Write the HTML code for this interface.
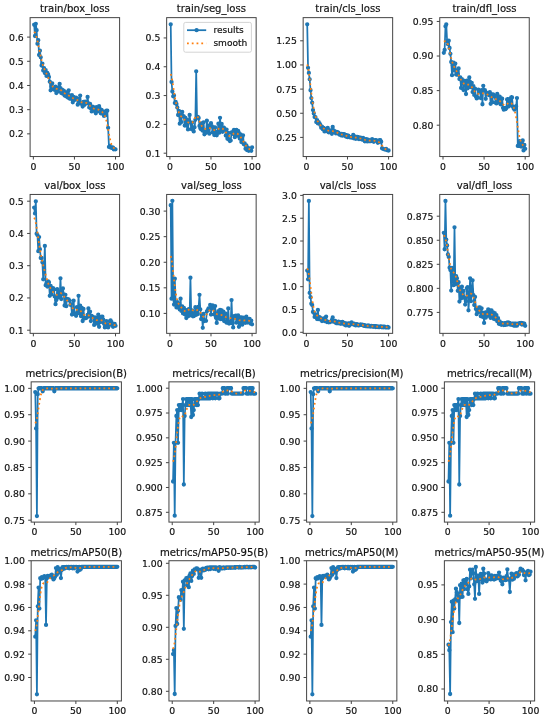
<!DOCTYPE html>
<html lang="en">
<head>
<meta charset="utf-8">
<title>results</title>
<style>html,body{margin:0;padding:0;background:#fff}svg{display:block}</style>
</head>
<body>
<svg width="550" height="722" viewBox="0 0 550 722" font-family="'DejaVu Sans','Liberation Sans',sans-serif" fill="#111">
<style>text{stroke:#111;stroke-width:.18px;paint-order:stroke}</style>
<rect width="550" height="722" fill="#fff"/>
<g>
<text x="74.85" y="12.44" font-size="10.1" text-anchor="middle">train/box_loss</text>
<clipPath id="c0"><rect x="30.1" y="17.64" width="89.5" height="138.9"/></clipPath>
<g clip-path="url(#c0)">
<polyline points="34.17,24.76 34.99,36.00 35.81,23.79 36.63,30.19 37.46,43.76 38.28,40.27 39.10,55.01 39.92,50.74 40.74,57.33 41.56,65.48 42.39,63.54 43.21,70.52 44.03,68.19 44.85,73.11 45.67,70.18 46.50,75.90 47.32,72.87 48.14,74.37 48.96,77.02 49.78,81.70 50.61,90.30 51.43,86.66 52.25,83.35 53.07,88.06 53.89,89.29 54.71,89.94 55.54,86.64 56.36,93.01 57.18,87.33 58.00,91.54 58.82,88.38 59.65,83.90 60.47,88.09 61.29,93.09 62.11,89.58 62.93,93.76 63.75,90.58 64.58,95.56 65.40,94.77 66.22,96.42 67.04,92.16 67.86,97.48 68.69,90.30 69.51,98.60 70.33,95.60 71.15,98.92 71.97,95.19 72.80,102.32 73.62,96.97 74.44,100.06 75.26,98.21 76.08,97.62 76.90,98.74 77.73,104.65 78.55,99.15 79.37,102.40 80.19,95.53 81.01,103.35 81.84,104.36 82.66,106.58 83.48,101.90 84.30,104.95 85.12,101.60 85.95,102.41 86.77,103.37 87.59,96.89 88.41,103.29 89.23,107.41 90.05,103.85 90.88,108.58 91.70,111.43 92.52,106.64 93.34,107.08 94.16,110.67 94.99,107.28 95.81,113.37 96.63,107.10 97.45,111.23 98.27,108.15 99.09,106.20 99.92,108.79 100.74,113.25 101.56,109.81 102.38,113.67 103.20,111.32 104.03,115.89 104.85,111.75 105.67,115.22 106.49,110.70 107.31,110.66 108.14,127.86 108.96,146.90 109.78,146.01 110.60,147.49 111.42,147.80 112.24,147.41 113.07,147.63 113.89,149.47 114.71,149.12 115.53,149.36" fill="none" stroke="#1f77b4" stroke-width="1.75" stroke-linejoin="round"/>
<path d="M34.17,24.76h0M34.99,36.00h0M35.81,23.79h0M36.63,30.19h0M37.46,43.76h0M38.28,40.27h0M39.10,55.01h0M39.92,50.74h0M40.74,57.33h0M41.56,65.48h0M42.39,63.54h0M43.21,70.52h0M44.03,68.19h0M44.85,73.11h0M45.67,70.18h0M46.50,75.90h0M47.32,72.87h0M48.14,74.37h0M48.96,77.02h0M49.78,81.70h0M50.61,90.30h0M51.43,86.66h0M52.25,83.35h0M53.07,88.06h0M53.89,89.29h0M54.71,89.94h0M55.54,86.64h0M56.36,93.01h0M57.18,87.33h0M58.00,91.54h0M58.82,88.38h0M59.65,83.90h0M60.47,88.09h0M61.29,93.09h0M62.11,89.58h0M62.93,93.76h0M63.75,90.58h0M64.58,95.56h0M65.40,94.77h0M66.22,96.42h0M67.04,92.16h0M67.86,97.48h0M68.69,90.30h0M69.51,98.60h0M70.33,95.60h0M71.15,98.92h0M71.97,95.19h0M72.80,102.32h0M73.62,96.97h0M74.44,100.06h0M75.26,98.21h0M76.08,97.62h0M76.90,98.74h0M77.73,104.65h0M78.55,99.15h0M79.37,102.40h0M80.19,95.53h0M81.01,103.35h0M81.84,104.36h0M82.66,106.58h0M83.48,101.90h0M84.30,104.95h0M85.12,101.60h0M85.95,102.41h0M86.77,103.37h0M87.59,96.89h0M88.41,103.29h0M89.23,107.41h0M90.05,103.85h0M90.88,108.58h0M91.70,111.43h0M92.52,106.64h0M93.34,107.08h0M94.16,110.67h0M94.99,107.28h0M95.81,113.37h0M96.63,107.10h0M97.45,111.23h0M98.27,108.15h0M99.09,106.20h0M99.92,108.79h0M100.74,113.25h0M101.56,109.81h0M102.38,113.67h0M103.20,111.32h0M104.03,115.89h0M104.85,111.75h0M105.67,115.22h0M106.49,110.70h0M107.31,110.66h0M108.14,127.86h0M108.96,146.90h0M109.78,146.01h0M110.60,147.49h0M111.42,147.80h0M112.24,147.41h0M113.07,147.63h0M113.89,149.47h0M114.71,149.12h0M115.53,149.36h0" fill="none" stroke="#1f77b4" stroke-width="4.3" stroke-linecap="round"/>
<polyline points="34.17,31.81 34.99,32.78 35.81,34.68 36.63,37.40 37.46,40.79 38.28,44.64 39.10,48.71 39.92,52.76 40.74,56.62 41.56,60.14 42.39,63.26 43.21,65.95 44.03,68.25 44.85,70.23 45.67,72.02 46.50,73.73 47.32,75.48 48.14,77.33 48.96,79.24 49.78,81.15 50.61,82.94 51.43,84.52 52.25,85.82 53.07,86.86 53.89,87.65 54.71,88.23 55.54,88.61 56.36,88.84 57.18,88.95 58.00,89.03 58.82,89.16 59.65,89.41 60.47,89.84 61.29,90.43 62.11,91.14 62.93,91.90 63.75,92.64 64.58,93.29 65.40,93.85 66.22,94.32 67.04,94.73 67.86,95.13 68.69,95.57 69.51,96.06 70.33,96.59 71.15,97.13 71.97,97.64 72.80,98.09 73.62,98.47 74.44,98.82 75.26,99.15 76.08,99.49 76.90,99.84 77.73,100.23 78.55,100.63 79.37,101.08 80.19,101.55 81.01,102.02 81.84,102.43 82.66,102.74 83.48,102.90 84.30,102.93 85.12,102.90 85.95,102.93 86.77,103.10 87.59,103.50 88.41,104.12 89.23,104.90 90.05,105.77 90.88,106.61 91.70,107.35 92.52,107.95 93.34,108.41 94.16,108.75 94.99,108.99 95.81,109.14 96.63,109.25 97.45,109.35 98.27,109.52 99.09,109.80 99.92,110.21 100.74,110.74 101.56,111.37 102.38,112.08 103.20,112.93 104.03,114.04 104.85,115.63 105.67,117.91 106.49,121.03 107.31,124.93 108.14,129.37 108.96,133.91 109.78,138.10 110.60,141.59 111.42,144.25 112.24,146.10 113.07,147.31 113.89,148.05 114.71,148.47 115.53,148.66" fill="none" stroke="#ff7f0e" stroke-width="1.75" stroke-dasharray="1.8 2.97"/>
</g>
<rect x="30.1" y="17.64" width="89.5" height="138.9" fill="none" stroke="#444" stroke-width="1.0"/>
<line x1="33.35" y1="156.54" x2="33.35" y2="159.54" stroke="#444" stroke-width="1.0"/>
<text x="33.35" y="169.84" font-size="9.3" text-anchor="middle">0</text>
<line x1="74.44" y1="156.54" x2="74.44" y2="159.54" stroke="#444" stroke-width="1.0"/>
<text x="74.44" y="169.84" font-size="9.3" text-anchor="middle">50</text>
<line x1="115.53" y1="156.54" x2="115.53" y2="159.54" stroke="#444" stroke-width="1.0"/>
<text x="115.53" y="169.84" font-size="9.3" text-anchor="middle">100</text>
<line x1="27.10" y1="133.85" x2="30.10" y2="133.85" stroke="#444" stroke-width="1.0"/>
<text x="23.80" y="137.30" font-size="9.3" text-anchor="end">0.2</text>
<line x1="27.10" y1="109.66" x2="30.10" y2="109.66" stroke="#444" stroke-width="1.0"/>
<text x="23.80" y="113.11" font-size="9.3" text-anchor="end">0.3</text>
<line x1="27.10" y1="85.47" x2="30.10" y2="85.47" stroke="#444" stroke-width="1.0"/>
<text x="23.80" y="88.92" font-size="9.3" text-anchor="end">0.4</text>
<line x1="27.10" y1="61.29" x2="30.10" y2="61.29" stroke="#444" stroke-width="1.0"/>
<text x="23.80" y="64.74" font-size="9.3" text-anchor="end">0.5</text>
<line x1="27.10" y1="37.10" x2="30.10" y2="37.10" stroke="#444" stroke-width="1.0"/>
<text x="23.80" y="40.55" font-size="9.3" text-anchor="end">0.6</text>
</g>
<g>
<text x="211.40" y="12.44" font-size="10.1" text-anchor="middle">train/seg_loss</text>
<clipPath id="c1"><rect x="166.65" y="17.64" width="89.5" height="138.9"/></clipPath>
<g clip-path="url(#c1)">
<polyline points="170.72,24.37 171.54,81.96 172.36,91.51 173.18,96.34 174.01,95.52 174.83,103.03 175.65,101.86 176.47,104.01 177.29,107.45 178.11,115.01 178.94,110.96 179.76,123.65 180.58,114.96 181.40,122.04 182.22,112.01 183.05,115.98 183.87,116.52 184.69,125.58 185.51,117.99 186.33,125.49 187.16,119.89 187.98,129.47 188.80,120.96 189.62,114.92 190.44,122.43 191.26,129.05 192.09,122.54 192.91,127.93 193.73,131.40 194.55,127.34 195.37,119.85 196.20,71.29 197.02,117.68 197.84,116.86 198.66,118.01 199.48,125.97 200.30,128.31 201.13,129.47 201.95,123.12 202.77,130.68 203.59,122.31 204.41,134.31 205.24,133.32 206.06,131.77 206.88,120.74 207.70,132.27 208.52,125.70 209.35,133.63 210.17,125.81 210.99,123.26 211.81,126.20 212.63,132.34 213.45,127.16 214.28,135.06 215.10,127.45 215.92,132.98 216.74,135.28 217.56,131.90 218.39,123.77 219.21,132.71 220.03,117.83 220.85,131.05 221.67,124.01 222.50,131.80 223.32,127.48 224.14,127.82 224.96,129.35 225.78,135.53 226.60,129.55 227.43,138.75 228.25,132.88 229.07,139.65 229.89,141.10 230.71,140.60 231.54,132.35 232.36,133.73 233.18,131.28 234.00,129.85 234.82,137.22 235.64,131.05 236.47,129.85 237.29,135.67 238.11,130.80 238.93,132.96 239.75,138.58 240.58,134.30 241.40,142.07 242.22,137.22 243.04,135.28 243.86,144.37 244.69,143.43 245.51,148.86 246.33,145.36 247.15,150.14 247.97,147.75 248.79,150.80 249.62,150.42 250.44,150.40 251.26,150.80 252.08,147.30" fill="none" stroke="#1f77b4" stroke-width="1.75" stroke-linejoin="round"/>
<path d="M170.72,24.37h0M171.54,81.96h0M172.36,91.51h0M173.18,96.34h0M174.01,95.52h0M174.83,103.03h0M175.65,101.86h0M176.47,104.01h0M177.29,107.45h0M178.11,115.01h0M178.94,110.96h0M179.76,123.65h0M180.58,114.96h0M181.40,122.04h0M182.22,112.01h0M183.05,115.98h0M183.87,116.52h0M184.69,125.58h0M185.51,117.99h0M186.33,125.49h0M187.16,119.89h0M187.98,129.47h0M188.80,120.96h0M189.62,114.92h0M190.44,122.43h0M191.26,129.05h0M192.09,122.54h0M192.91,127.93h0M193.73,131.40h0M194.55,127.34h0M195.37,119.85h0M196.20,71.29h0M197.02,117.68h0M197.84,116.86h0M198.66,118.01h0M199.48,125.97h0M200.30,128.31h0M201.13,129.47h0M201.95,123.12h0M202.77,130.68h0M203.59,122.31h0M204.41,134.31h0M205.24,133.32h0M206.06,131.77h0M206.88,120.74h0M207.70,132.27h0M208.52,125.70h0M209.35,133.63h0M210.17,125.81h0M210.99,123.26h0M211.81,126.20h0M212.63,132.34h0M213.45,127.16h0M214.28,135.06h0M215.10,127.45h0M215.92,132.98h0M216.74,135.28h0M217.56,131.90h0M218.39,123.77h0M219.21,132.71h0M220.03,117.83h0M220.85,131.05h0M221.67,124.01h0M222.50,131.80h0M223.32,127.48h0M224.14,127.82h0M224.96,129.35h0M225.78,135.53h0M226.60,129.55h0M227.43,138.75h0M228.25,132.88h0M229.07,139.65h0M229.89,141.10h0M230.71,140.60h0M231.54,132.35h0M232.36,133.73h0M233.18,131.28h0M234.00,129.85h0M234.82,137.22h0M235.64,131.05h0M236.47,129.85h0M237.29,135.67h0M238.11,130.80h0M238.93,132.96h0M239.75,138.58h0M240.58,134.30h0M241.40,142.07h0M242.22,137.22h0M243.04,135.28h0M243.86,144.37h0M244.69,143.43h0M245.51,148.86h0M246.33,145.36h0M247.15,150.14h0M247.97,147.75h0M248.79,150.80h0M249.62,150.42h0M250.44,150.40h0M251.26,150.80h0M252.08,147.30h0" fill="none" stroke="#1f77b4" stroke-width="4.3" stroke-linecap="round"/>
<polyline points="170.72,74.10 171.54,76.59 172.36,80.99 173.18,86.36 174.01,91.84 174.83,96.83 175.65,101.12 176.47,104.75 177.29,107.83 178.11,110.45 178.94,112.62 179.76,114.35 180.58,115.68 181.40,116.70 182.22,117.54 183.05,118.33 183.87,119.14 184.69,119.96 185.51,120.74 186.33,121.40 187.16,121.92 187.98,122.32 188.80,122.64 189.62,122.95 190.44,123.19 191.26,123.23 192.09,122.86 192.91,121.91 193.73,120.40 194.55,118.59 195.37,116.94 196.20,115.96 197.02,115.99 197.84,117.04 198.66,118.86 199.48,121.02 200.30,123.12 201.13,124.92 201.95,126.34 202.77,127.39 203.59,128.13 204.41,128.60 205.24,128.84 206.06,128.87 206.88,128.76 207.70,128.56 208.52,128.36 209.35,128.22 210.17,128.19 210.99,128.33 211.81,128.64 212.63,129.09 213.45,129.59 214.28,130.03 215.10,130.30 215.92,130.31 216.74,130.06 217.56,129.58 218.39,128.99 219.21,128.44 220.03,128.07 220.85,127.95 221.67,128.13 222.50,128.57 223.32,129.25 224.14,130.13 224.96,131.15 225.78,132.27 226.60,133.40 227.43,134.44 228.25,135.27 229.07,135.79 229.89,135.92 230.71,135.68 231.54,135.17 232.36,134.53 233.18,133.91 234.00,133.42 234.82,133.14 235.64,133.08 236.47,133.24 237.29,133.62 238.11,134.21 238.93,134.98 239.75,135.91 240.58,136.96 241.40,138.12 242.22,139.39 243.04,140.77 243.86,142.22 244.69,143.69 245.51,145.09 246.33,146.36 247.15,147.41 247.97,148.24 248.79,148.82 249.62,149.19 250.44,149.39 251.26,149.47 252.08,149.49" fill="none" stroke="#ff7f0e" stroke-width="1.75" stroke-dasharray="1.8 2.97"/>
</g>
<rect x="166.65" y="17.64" width="89.5" height="138.9" fill="none" stroke="#444" stroke-width="1.0"/>
<line x1="169.90" y1="156.54" x2="169.90" y2="159.54" stroke="#444" stroke-width="1.0"/>
<text x="169.90" y="169.84" font-size="9.3" text-anchor="middle">0</text>
<line x1="210.99" y1="156.54" x2="210.99" y2="159.54" stroke="#444" stroke-width="1.0"/>
<text x="210.99" y="169.84" font-size="9.3" text-anchor="middle">50</text>
<line x1="252.08" y1="156.54" x2="252.08" y2="159.54" stroke="#444" stroke-width="1.0"/>
<text x="252.08" y="169.84" font-size="9.3" text-anchor="middle">100</text>
<line x1="163.65" y1="153.20" x2="166.65" y2="153.20" stroke="#444" stroke-width="1.0"/>
<text x="160.35" y="156.65" font-size="9.3" text-anchor="end">0.1</text>
<line x1="163.65" y1="124.39" x2="166.65" y2="124.39" stroke="#444" stroke-width="1.0"/>
<text x="160.35" y="127.84" font-size="9.3" text-anchor="end">0.2</text>
<line x1="163.65" y1="95.57" x2="166.65" y2="95.57" stroke="#444" stroke-width="1.0"/>
<text x="160.35" y="99.02" font-size="9.3" text-anchor="end">0.3</text>
<line x1="163.65" y1="66.76" x2="166.65" y2="66.76" stroke="#444" stroke-width="1.0"/>
<text x="160.35" y="70.21" font-size="9.3" text-anchor="end">0.4</text>
<line x1="163.65" y1="37.95" x2="166.65" y2="37.95" stroke="#444" stroke-width="1.0"/>
<text x="160.35" y="41.40" font-size="9.3" text-anchor="end">0.5</text>
<rect x="183.8" y="22.4" width="67.6" height="29.8" rx="1.7" fill="#fff" fill-opacity="0.8" stroke="#ccc" stroke-width="0.85"/>
<line x1="187.0" y1="30.2" x2="206.20000000000002" y2="30.2" stroke="#1f77b4" stroke-width="1.75"/>
<circle cx="196.60000000000002" cy="30.2" r="2.15" fill="#1f77b4"/>
<line x1="187.0" y1="43.3" x2="206.20000000000002" y2="43.3" stroke="#ff7f0e" stroke-width="1.75" stroke-dasharray="1.8 2.97"/>
<text x="213.4" y="33.099999999999994" font-size="9.05">results</text>
<text x="213.4" y="46.3" font-size="9.05">smooth</text>
</g>
<g>
<text x="347.90" y="12.44" font-size="10.1" text-anchor="middle">train/cls_loss</text>
<clipPath id="c2"><rect x="303.15" y="17.64" width="89.5" height="138.9"/></clipPath>
<g clip-path="url(#c2)">
<polyline points="307.22,24.37 308.04,67.80 308.86,72.92 309.68,79.28 310.51,90.14 311.33,98.12 312.15,102.69 312.97,110.10 313.79,113.45 314.61,116.98 315.44,117.17 316.26,122.10 317.08,120.07 317.90,123.47 318.72,122.26 319.55,123.44 320.37,124.94 321.19,127.76 322.01,126.58 322.83,129.25 323.66,127.85 324.48,131.40 325.30,128.81 326.12,131.06 326.94,129.61 327.76,127.91 328.59,132.30 329.41,132.22 330.23,130.44 331.05,132.86 331.87,133.73 332.70,126.94 333.52,130.49 334.34,130.84 335.16,131.55 335.98,133.44 336.80,131.85 337.63,132.18 338.45,132.60 339.27,134.53 340.09,134.95 340.91,135.29 341.74,133.78 342.56,135.70 343.38,134.20 344.20,134.10 345.02,134.54 345.85,136.62 346.67,135.22 347.49,137.17 348.31,135.59 349.13,137.13 349.95,137.47 350.78,137.19 351.60,137.62 352.42,137.72 353.24,134.89 354.06,138.43 354.89,136.40 355.71,138.75 356.53,138.62 357.35,136.84 358.17,137.23 359.00,139.14 359.82,137.56 360.64,137.67 361.46,139.32 362.28,139.66 363.10,137.89 363.93,138.76 364.75,141.29 365.57,141.03 366.39,139.25 367.21,141.38 368.04,139.57 368.86,141.07 369.68,141.07 370.50,141.16 371.32,139.98 372.14,139.16 372.97,141.41 373.79,141.84 374.61,140.46 375.43,140.04 376.25,140.36 377.08,140.59 377.90,142.84 378.72,142.30 379.54,140.18 380.36,140.13 381.19,141.70 382.01,148.32 382.83,148.76 383.65,149.04 384.47,149.33 385.29,149.69 386.12,148.96 386.94,150.05 387.76,150.37 388.58,150.50" fill="none" stroke="#1f77b4" stroke-width="1.75" stroke-linejoin="round"/>
<path d="M307.22,24.37h0M308.04,67.80h0M308.86,72.92h0M309.68,79.28h0M310.51,90.14h0M311.33,98.12h0M312.15,102.69h0M312.97,110.10h0M313.79,113.45h0M314.61,116.98h0M315.44,117.17h0M316.26,122.10h0M317.08,120.07h0M317.90,123.47h0M318.72,122.26h0M319.55,123.44h0M320.37,124.94h0M321.19,127.76h0M322.01,126.58h0M322.83,129.25h0M323.66,127.85h0M324.48,131.40h0M325.30,128.81h0M326.12,131.06h0M326.94,129.61h0M327.76,127.91h0M328.59,132.30h0M329.41,132.22h0M330.23,130.44h0M331.05,132.86h0M331.87,133.73h0M332.70,126.94h0M333.52,130.49h0M334.34,130.84h0M335.16,131.55h0M335.98,133.44h0M336.80,131.85h0M337.63,132.18h0M338.45,132.60h0M339.27,134.53h0M340.09,134.95h0M340.91,135.29h0M341.74,133.78h0M342.56,135.70h0M343.38,134.20h0M344.20,134.10h0M345.02,134.54h0M345.85,136.62h0M346.67,135.22h0M347.49,137.17h0M348.31,135.59h0M349.13,137.13h0M349.95,137.47h0M350.78,137.19h0M351.60,137.62h0M352.42,137.72h0M353.24,134.89h0M354.06,138.43h0M354.89,136.40h0M355.71,138.75h0M356.53,138.62h0M357.35,136.84h0M358.17,137.23h0M359.00,139.14h0M359.82,137.56h0M360.64,137.67h0M361.46,139.32h0M362.28,139.66h0M363.10,137.89h0M363.93,138.76h0M364.75,141.29h0M365.57,141.03h0M366.39,139.25h0M367.21,141.38h0M368.04,139.57h0M368.86,141.07h0M369.68,141.07h0M370.50,141.16h0M371.32,139.98h0M372.14,139.16h0M372.97,141.41h0M373.79,141.84h0M374.61,140.46h0M375.43,140.04h0M376.25,140.36h0M377.08,140.59h0M377.90,142.84h0M378.72,142.30h0M379.54,140.18h0M380.36,140.13h0M381.19,141.70h0M382.01,148.32h0M382.83,148.76h0M383.65,149.04h0M384.47,149.33h0M385.29,149.69h0M386.12,148.96h0M386.94,150.05h0M387.76,150.37h0M388.58,150.50h0" fill="none" stroke="#1f77b4" stroke-width="4.3" stroke-linecap="round"/>
<polyline points="307.22,64.44 308.04,67.21 308.86,72.26 309.68,78.76 310.51,85.84 311.33,92.78 312.15,99.10 312.97,104.59 313.79,109.16 314.61,112.88 315.44,115.85 316.26,118.20 317.08,120.06 317.90,121.59 318.72,122.88 319.55,124.03 320.37,125.09 321.19,126.08 322.01,126.97 322.83,127.77 323.66,128.44 324.48,128.99 325.30,129.44 326.12,129.81 326.94,130.14 327.76,130.43 328.59,130.69 329.41,130.90 330.23,131.04 331.05,131.12 331.87,131.14 332.70,131.18 333.52,131.27 334.34,131.44 335.16,131.71 335.98,132.05 336.80,132.44 337.63,132.86 338.45,133.27 339.27,133.66 340.09,134.00 340.91,134.28 341.74,134.50 342.56,134.69 343.38,134.87 344.20,135.07 345.02,135.30 345.85,135.57 346.67,135.86 347.49,136.15 348.31,136.42 349.13,136.65 349.95,136.84 350.78,136.98 351.60,137.08 352.42,137.17 353.24,137.26 354.06,137.36 354.89,137.47 355.71,137.59 356.53,137.71 357.35,137.84 358.17,137.96 359.00,138.11 359.82,138.28 360.64,138.48 361.46,138.71 362.28,138.97 363.10,139.24 363.93,139.52 364.75,139.78 365.57,140.02 366.39,140.21 367.21,140.35 368.04,140.46 368.86,140.52 369.68,140.57 370.50,140.59 371.32,140.61 372.14,140.63 372.97,140.67 373.79,140.72 374.61,140.79 375.43,140.90 376.25,141.05 377.08,141.27 377.90,141.58 378.72,142.04 379.54,142.67 380.36,143.50 381.19,144.49 382.01,145.56 382.83,146.62 383.65,147.57 384.47,148.35 385.29,148.95 386.12,149.38 386.94,149.67 387.76,149.86 388.58,149.95" fill="none" stroke="#ff7f0e" stroke-width="1.75" stroke-dasharray="1.8 2.97"/>
</g>
<rect x="303.15" y="17.64" width="89.5" height="138.9" fill="none" stroke="#444" stroke-width="1.0"/>
<line x1="306.40" y1="156.54" x2="306.40" y2="159.54" stroke="#444" stroke-width="1.0"/>
<text x="306.40" y="169.84" font-size="9.3" text-anchor="middle">0</text>
<line x1="347.49" y1="156.54" x2="347.49" y2="159.54" stroke="#444" stroke-width="1.0"/>
<text x="347.49" y="169.84" font-size="9.3" text-anchor="middle">50</text>
<line x1="388.58" y1="156.54" x2="388.58" y2="159.54" stroke="#444" stroke-width="1.0"/>
<text x="388.58" y="169.84" font-size="9.3" text-anchor="middle">100</text>
<line x1="300.15" y1="137.40" x2="303.15" y2="137.40" stroke="#444" stroke-width="1.0"/>
<text x="296.85" y="140.85" font-size="9.3" text-anchor="end">0.25</text>
<line x1="300.15" y1="113.25" x2="303.15" y2="113.25" stroke="#444" stroke-width="1.0"/>
<text x="296.85" y="116.70" font-size="9.3" text-anchor="end">0.50</text>
<line x1="300.15" y1="89.10" x2="303.15" y2="89.10" stroke="#444" stroke-width="1.0"/>
<text x="296.85" y="92.55" font-size="9.3" text-anchor="end">0.75</text>
<line x1="300.15" y1="64.95" x2="303.15" y2="64.95" stroke="#444" stroke-width="1.0"/>
<text x="296.85" y="68.40" font-size="9.3" text-anchor="end">1.00</text>
<line x1="300.15" y1="40.80" x2="303.15" y2="40.80" stroke="#444" stroke-width="1.0"/>
<text x="296.85" y="44.25" font-size="9.3" text-anchor="end">1.25</text>
</g>
<g>
<text x="484.50" y="12.44" font-size="10.1" text-anchor="middle">train/dfl_loss</text>
<clipPath id="c3"><rect x="439.75" y="17.64" width="89.5" height="138.9"/></clipPath>
<g clip-path="url(#c3)">
<polyline points="443.82,52.87 444.64,49.96 445.46,26.31 446.28,24.37 447.11,41.24 447.93,44.15 448.75,40.66 449.57,48.02 450.39,53.84 451.21,61.99 452.04,75.17 452.86,65.48 453.68,62.66 454.50,70.71 455.32,63.54 456.15,74.59 456.97,70.50 457.79,74.59 458.61,68.39 459.43,79.05 460.26,77.37 461.08,87.97 461.90,79.16 462.72,80.29 463.54,90.10 464.36,80.99 465.19,81.52 466.01,93.98 466.83,80.71 467.65,88.25 468.47,84.87 469.30,77.50 470.12,82.02 470.94,87.19 471.76,82.93 472.58,92.10 473.40,86.20 474.23,94.92 475.05,88.57 475.87,96.60 476.69,98.44 477.51,97.66 478.34,89.63 479.16,91.61 479.98,91.22 480.80,98.07 481.62,90.17 482.45,104.26 483.27,85.84 484.09,90.15 484.91,90.15 485.73,98.81 486.55,92.56 487.38,94.33 488.20,93.81 489.02,95.17 489.84,92.24 490.66,103.87 491.49,94.18 492.31,102.19 493.13,94.37 493.95,96.08 494.77,96.27 495.60,102.83 496.42,103.45 497.24,93.98 498.06,102.29 498.88,101.66 499.70,96.66 500.53,104.34 501.35,98.35 502.17,98.69 502.99,107.80 503.81,109.69 504.64,108.09 505.46,109.18 506.28,108.14 507.10,99.41 507.92,99.19 508.74,106.44 509.57,99.73 510.39,104.04 511.21,97.40 512.03,97.47 512.85,106.57 513.68,108.49 514.50,109.69 515.32,108.51 516.14,106.13 516.96,98.05 517.79,145.95 518.61,145.73 519.43,141.10 520.25,145.36 521.07,146.53 521.89,144.23 522.72,140.52 523.54,150.41 524.36,144.98 525.18,148.86" fill="none" stroke="#1f77b4" stroke-width="1.75" stroke-linejoin="round"/>
<path d="M443.82,52.87h0M444.64,49.96h0M445.46,26.31h0M446.28,24.37h0M447.11,41.24h0M447.93,44.15h0M448.75,40.66h0M449.57,48.02h0M450.39,53.84h0M451.21,61.99h0M452.04,75.17h0M452.86,65.48h0M453.68,62.66h0M454.50,70.71h0M455.32,63.54h0M456.15,74.59h0M456.97,70.50h0M457.79,74.59h0M458.61,68.39h0M459.43,79.05h0M460.26,77.37h0M461.08,87.97h0M461.90,79.16h0M462.72,80.29h0M463.54,90.10h0M464.36,80.99h0M465.19,81.52h0M466.01,93.98h0M466.83,80.71h0M467.65,88.25h0M468.47,84.87h0M469.30,77.50h0M470.12,82.02h0M470.94,87.19h0M471.76,82.93h0M472.58,92.10h0M473.40,86.20h0M474.23,94.92h0M475.05,88.57h0M475.87,96.60h0M476.69,98.44h0M477.51,97.66h0M478.34,89.63h0M479.16,91.61h0M479.98,91.22h0M480.80,98.07h0M481.62,90.17h0M482.45,104.26h0M483.27,85.84h0M484.09,90.15h0M484.91,90.15h0M485.73,98.81h0M486.55,92.56h0M487.38,94.33h0M488.20,93.81h0M489.02,95.17h0M489.84,92.24h0M490.66,103.87h0M491.49,94.18h0M492.31,102.19h0M493.13,94.37h0M493.95,96.08h0M494.77,96.27h0M495.60,102.83h0M496.42,103.45h0M497.24,93.98h0M498.06,102.29h0M498.88,101.66h0M499.70,96.66h0M500.53,104.34h0M501.35,98.35h0M502.17,98.69h0M502.99,107.80h0M503.81,109.69h0M504.64,108.09h0M505.46,109.18h0M506.28,108.14h0M507.10,99.41h0M507.92,99.19h0M508.74,106.44h0M509.57,99.73h0M510.39,104.04h0M511.21,97.40h0M512.03,97.47h0M512.85,106.57h0M513.68,108.49h0M514.50,109.69h0M515.32,108.51h0M516.14,106.13h0M516.96,98.05h0M517.79,145.95h0M518.61,145.73h0M519.43,141.10h0M520.25,145.36h0M521.07,146.53h0M521.89,144.23h0M522.72,140.52h0M523.54,150.41h0M524.36,144.98h0M525.18,148.86h0" fill="none" stroke="#1f77b4" stroke-width="4.3" stroke-linecap="round"/>
<polyline points="443.82,41.55 444.64,41.32 445.46,41.12 446.28,41.36 447.11,42.41 447.93,44.41 448.75,47.28 449.57,50.75 450.39,54.45 451.21,58.02 452.04,61.17 452.86,63.77 453.68,65.85 454.50,67.54 455.32,69.01 456.15,70.41 456.97,71.86 457.79,73.40 458.61,75.04 459.43,76.72 460.26,78.38 461.08,79.91 461.90,81.25 462.72,82.37 463.54,83.26 464.36,83.92 465.19,84.35 466.01,84.56 466.83,84.61 467.65,84.56 468.47,84.55 469.30,84.71 470.12,85.14 470.94,85.90 471.76,86.95 472.58,88.20 473.40,89.53 474.23,90.81 475.05,91.93 475.87,92.79 476.69,93.36 477.51,93.65 478.34,93.75 479.16,93.74 479.98,93.69 480.80,93.61 481.62,93.51 482.45,93.40 483.27,93.31 484.09,93.29 484.91,93.38 485.73,93.61 486.55,93.97 487.38,94.42 488.20,94.93 489.02,95.49 489.84,96.05 490.66,96.57 491.49,97.04 492.31,97.44 493.13,97.81 493.95,98.19 494.77,98.57 495.60,98.97 496.42,99.35 497.24,99.70 498.06,100.05 498.88,100.45 499.70,100.95 500.53,101.62 501.35,102.44 502.17,103.35 502.99,104.21 503.81,104.87 504.64,105.19 505.46,105.12 506.28,104.71 507.10,104.10 507.92,103.44 508.74,102.91 509.57,102.62 510.39,102.66 511.21,103.11 512.03,104.00 512.85,105.37 513.68,107.30 514.50,109.90 515.32,113.27 516.14,117.45 516.96,122.26 517.79,127.35 518.61,132.24 519.43,136.48 520.25,139.81 521.07,142.22 521.89,143.86 522.72,144.95 523.54,145.66 524.36,146.11 525.18,146.33" fill="none" stroke="#ff7f0e" stroke-width="1.75" stroke-dasharray="1.8 2.97"/>
</g>
<rect x="439.75" y="17.64" width="89.5" height="138.9" fill="none" stroke="#444" stroke-width="1.0"/>
<line x1="443.00" y1="156.54" x2="443.00" y2="159.54" stroke="#444" stroke-width="1.0"/>
<text x="443.00" y="169.84" font-size="9.3" text-anchor="middle">0</text>
<line x1="484.09" y1="156.54" x2="484.09" y2="159.54" stroke="#444" stroke-width="1.0"/>
<text x="484.09" y="169.84" font-size="9.3" text-anchor="middle">50</text>
<line x1="525.18" y1="156.54" x2="525.18" y2="159.54" stroke="#444" stroke-width="1.0"/>
<text x="525.18" y="169.84" font-size="9.3" text-anchor="middle">100</text>
<line x1="436.75" y1="125.20" x2="439.75" y2="125.20" stroke="#444" stroke-width="1.0"/>
<text x="433.45" y="128.65" font-size="9.3" text-anchor="end">0.80</text>
<line x1="436.75" y1="90.62" x2="439.75" y2="90.62" stroke="#444" stroke-width="1.0"/>
<text x="433.45" y="94.07" font-size="9.3" text-anchor="end">0.85</text>
<line x1="436.75" y1="56.03" x2="439.75" y2="56.03" stroke="#444" stroke-width="1.0"/>
<text x="433.45" y="59.48" font-size="9.3" text-anchor="end">0.90</text>
<line x1="436.75" y1="21.45" x2="439.75" y2="21.45" stroke="#444" stroke-width="1.0"/>
<text x="433.45" y="24.90" font-size="9.3" text-anchor="end">0.95</text>
</g>
<g>
<text x="74.85" y="189.25" font-size="10.1" text-anchor="middle">val/box_loss</text>
<clipPath id="c4"><rect x="30.1" y="194.45" width="89.5" height="138.9"/></clipPath>
<g clip-path="url(#c4)">
<polyline points="34.17,207.57 34.99,213.39 35.81,201.37 36.63,233.75 37.46,235.11 38.28,251.20 39.10,237.05 39.92,249.26 40.74,257.99 41.56,257.97 42.39,262.36 43.21,279.32 44.03,269.37 44.85,245.97 45.67,285.14 46.50,283.77 47.32,286.48 48.14,281.51 48.96,282.23 49.78,295.80 50.61,285.82 51.43,294.29 52.25,288.57 53.07,288.04 53.89,289.76 54.71,296.42 55.54,304.14 56.36,300.06 57.18,289.22 58.00,297.56 58.82,292.04 59.65,297.19 60.47,278.35 61.29,299.07 62.11,292.59 62.93,288.43 63.75,294.32 64.58,305.50 65.40,294.78 66.22,306.18 67.04,298.82 67.86,299.68 68.69,299.50 69.51,300.71 70.33,304.79 71.15,304.05 71.97,314.61 72.80,312.94 73.62,300.65 74.44,313.43 75.26,314.17 76.08,315.77 76.90,307.18 77.73,312.27 78.55,295.80 79.37,313.36 80.19,305.70 81.01,316.20 81.84,307.84 82.66,321.01 83.48,308.97 84.30,318.10 85.12,318.10 85.95,318.19 86.77,317.62 87.59,314.96 88.41,308.40 89.23,316.25 90.05,311.74 90.88,321.08 91.70,315.92 92.52,316.71 93.34,317.42 94.16,324.89 94.99,317.44 95.81,323.39 96.63,318.00 97.45,323.65 98.27,314.61 99.09,326.83 99.92,316.94 100.74,321.99 101.56,316.83 102.38,316.55 103.20,319.39 104.03,323.75 104.85,327.41 105.67,325.97 106.49,321.12 107.31,325.10 108.14,327.41 108.96,324.86 109.78,321.22 110.60,320.43 111.42,321.79 112.24,325.71 113.07,326.83 113.89,325.89 114.71,323.94 115.53,325.86" fill="none" stroke="#1f77b4" stroke-width="1.75" stroke-linejoin="round"/>
<path d="M34.17,207.57h0M34.99,213.39h0M35.81,201.37h0M36.63,233.75h0M37.46,235.11h0M38.28,251.20h0M39.10,237.05h0M39.92,249.26h0M40.74,257.99h0M41.56,257.97h0M42.39,262.36h0M43.21,279.32h0M44.03,269.37h0M44.85,245.97h0M45.67,285.14h0M46.50,283.77h0M47.32,286.48h0M48.14,281.51h0M48.96,282.23h0M49.78,295.80h0M50.61,285.82h0M51.43,294.29h0M52.25,288.57h0M53.07,288.04h0M53.89,289.76h0M54.71,296.42h0M55.54,304.14h0M56.36,300.06h0M57.18,289.22h0M58.00,297.56h0M58.82,292.04h0M59.65,297.19h0M60.47,278.35h0M61.29,299.07h0M62.11,292.59h0M62.93,288.43h0M63.75,294.32h0M64.58,305.50h0M65.40,294.78h0M66.22,306.18h0M67.04,298.82h0M67.86,299.68h0M68.69,299.50h0M69.51,300.71h0M70.33,304.79h0M71.15,304.05h0M71.97,314.61h0M72.80,312.94h0M73.62,300.65h0M74.44,313.43h0M75.26,314.17h0M76.08,315.77h0M76.90,307.18h0M77.73,312.27h0M78.55,295.80h0M79.37,313.36h0M80.19,305.70h0M81.01,316.20h0M81.84,307.84h0M82.66,321.01h0M83.48,308.97h0M84.30,318.10h0M85.12,318.10h0M85.95,318.19h0M86.77,317.62h0M87.59,314.96h0M88.41,308.40h0M89.23,316.25h0M90.05,311.74h0M90.88,321.08h0M91.70,315.92h0M92.52,316.71h0M93.34,317.42h0M94.16,324.89h0M94.99,317.44h0M95.81,323.39h0M96.63,318.00h0M97.45,323.65h0M98.27,314.61h0M99.09,326.83h0M99.92,316.94h0M100.74,321.99h0M101.56,316.83h0M102.38,316.55h0M103.20,319.39h0M104.03,323.75h0M104.85,327.41h0M105.67,325.97h0M106.49,321.12h0M107.31,325.10h0M108.14,327.41h0M108.96,324.86h0M109.78,321.22h0M110.60,320.43h0M111.42,321.79h0M112.24,325.71h0M113.07,326.83h0M113.89,325.89h0M114.71,323.94h0M115.53,325.86h0" fill="none" stroke="#1f77b4" stroke-width="4.3" stroke-linecap="round"/>
<polyline points="34.17,217.69 34.99,219.53 35.81,222.99 36.63,227.62 37.46,232.93 38.28,238.47 39.10,243.87 39.92,248.96 40.74,253.64 41.56,257.87 42.39,261.71 43.21,265.21 44.03,268.51 44.85,271.70 45.67,274.83 46.50,277.85 47.32,280.66 48.14,283.15 48.96,285.26 49.78,287.01 50.61,288.46 51.43,289.71 52.25,290.87 53.07,291.99 53.89,293.04 54.71,293.92 55.54,294.52 56.36,294.75 57.18,294.60 58.00,294.18 58.82,293.66 59.65,293.25 60.47,293.10 61.29,293.33 62.11,293.94 62.93,294.88 63.75,296.03 64.58,297.24 65.40,298.39 66.22,299.42 67.04,300.35 67.86,301.27 68.69,302.28 69.51,303.44 70.33,304.73 71.15,306.06 71.97,307.32 72.80,308.41 73.62,309.24 74.44,309.76 75.26,309.97 76.08,309.93 76.90,309.73 77.73,309.56 78.55,309.58 79.37,309.90 80.19,310.54 81.01,311.43 81.84,312.45 82.66,313.46 83.48,314.34 84.30,315.00 85.12,315.39 85.95,315.54 86.77,315.51 87.59,315.42 88.41,315.40 89.23,315.56 90.05,315.94 90.88,316.50 91.70,317.20 92.52,317.93 93.34,318.63 94.16,319.23 94.99,319.70 95.81,320.01 96.63,320.18 97.45,320.23 98.27,320.20 99.09,320.13 99.92,320.08 100.74,320.14 101.56,320.38 102.38,320.82 103.20,321.45 104.03,322.18 104.85,322.89 105.67,323.46 106.49,323.82 107.31,323.98 108.14,323.97 108.96,323.88 109.78,323.82 110.60,323.85 111.42,324.00 112.24,324.25 113.07,324.55 113.89,324.82 114.71,325.02 115.53,325.12" fill="none" stroke="#ff7f0e" stroke-width="1.75" stroke-dasharray="1.8 2.97"/>
</g>
<rect x="30.1" y="194.45" width="89.5" height="138.9" fill="none" stroke="#444" stroke-width="1.0"/>
<line x1="33.35" y1="333.35" x2="33.35" y2="336.35" stroke="#444" stroke-width="1.0"/>
<text x="33.35" y="346.65" font-size="9.3" text-anchor="middle">0</text>
<line x1="74.44" y1="333.35" x2="74.44" y2="336.35" stroke="#444" stroke-width="1.0"/>
<text x="74.44" y="346.65" font-size="9.3" text-anchor="middle">50</text>
<line x1="115.53" y1="333.35" x2="115.53" y2="336.35" stroke="#444" stroke-width="1.0"/>
<text x="115.53" y="346.65" font-size="9.3" text-anchor="middle">100</text>
<line x1="27.10" y1="330.20" x2="30.10" y2="330.20" stroke="#444" stroke-width="1.0"/>
<text x="23.80" y="333.65" font-size="9.3" text-anchor="end">0.1</text>
<line x1="27.10" y1="297.95" x2="30.10" y2="297.95" stroke="#444" stroke-width="1.0"/>
<text x="23.80" y="301.40" font-size="9.3" text-anchor="end">0.2</text>
<line x1="27.10" y1="265.70" x2="30.10" y2="265.70" stroke="#444" stroke-width="1.0"/>
<text x="23.80" y="269.15" font-size="9.3" text-anchor="end">0.3</text>
<line x1="27.10" y1="233.45" x2="30.10" y2="233.45" stroke="#444" stroke-width="1.0"/>
<text x="23.80" y="236.90" font-size="9.3" text-anchor="end">0.4</text>
<line x1="27.10" y1="201.20" x2="30.10" y2="201.20" stroke="#444" stroke-width="1.0"/>
<text x="23.80" y="204.65" font-size="9.3" text-anchor="end">0.5</text>
</g>
<g>
<text x="211.40" y="189.25" font-size="10.1" text-anchor="middle">val/seg_loss</text>
<clipPath id="c5"><rect x="166.65" y="194.45" width="89.5" height="138.9"/></clipPath>
<g clip-path="url(#c5)">
<polyline points="170.72,205.25 171.54,298.71 172.36,200.79 173.18,298.71 174.01,304.53 174.83,278.74 175.65,302.59 176.47,307.43 177.29,302.24 178.11,307.71 178.94,303.52 179.76,309.59 180.58,298.71 181.40,310.90 182.22,306.37 183.05,313.41 183.87,307.79 184.69,314.26 185.51,309.85 186.33,318.10 187.16,312.11 187.98,316.23 188.80,309.26 189.62,315.53 190.44,277.77 191.26,315.18 192.09,310.35 192.91,316.33 193.73,316.16 194.55,313.62 195.37,307.17 196.20,314.76 197.02,307.43 197.84,314.02 198.66,306.81 199.48,294.83 200.30,309.30 201.13,319.07 201.95,315.42 202.77,327.80 203.59,313.99 204.41,321.01 205.24,320.46 206.06,320.79 206.88,311.35 207.70,310.21 208.52,308.42 209.35,309.42 210.17,304.91 210.99,314.62 211.81,306.48 212.63,305.50 213.45,308.57 214.28,314.57 215.10,306.08 215.92,317.80 216.74,322.95 217.56,313.14 218.39,311.10 219.21,318.67 220.03,309.88 220.85,319.19 221.67,310.34 222.50,317.42 223.32,311.57 224.14,321.01 224.96,313.83 225.78,313.67 226.60,322.69 227.43,322.68 228.25,308.40 229.07,323.53 229.89,322.10 230.71,322.54 231.54,300.07 232.36,323.16 233.18,327.41 234.00,316.12 234.82,317.62 235.64,315.77 236.47,322.71 237.29,317.98 238.11,315.40 238.93,326.83 239.75,317.12 240.58,323.54 241.40,317.43 242.22,324.68 243.04,317.60 243.86,322.95 244.69,318.55 245.51,322.84 246.33,316.55 247.15,322.52 247.97,319.47 248.79,319.28 249.62,318.83 250.44,323.48 251.26,320.61 252.08,324.30" fill="none" stroke="#1f77b4" stroke-width="1.75" stroke-linejoin="round"/>
<path d="M170.72,205.25h0M171.54,298.71h0M172.36,200.79h0M173.18,298.71h0M174.01,304.53h0M174.83,278.74h0M175.65,302.59h0M176.47,307.43h0M177.29,302.24h0M178.11,307.71h0M178.94,303.52h0M179.76,309.59h0M180.58,298.71h0M181.40,310.90h0M182.22,306.37h0M183.05,313.41h0M183.87,307.79h0M184.69,314.26h0M185.51,309.85h0M186.33,318.10h0M187.16,312.11h0M187.98,316.23h0M188.80,309.26h0M189.62,315.53h0M190.44,277.77h0M191.26,315.18h0M192.09,310.35h0M192.91,316.33h0M193.73,316.16h0M194.55,313.62h0M195.37,307.17h0M196.20,314.76h0M197.02,307.43h0M197.84,314.02h0M198.66,306.81h0M199.48,294.83h0M200.30,309.30h0M201.13,319.07h0M201.95,315.42h0M202.77,327.80h0M203.59,313.99h0M204.41,321.01h0M205.24,320.46h0M206.06,320.79h0M206.88,311.35h0M207.70,310.21h0M208.52,308.42h0M209.35,309.42h0M210.17,304.91h0M210.99,314.62h0M211.81,306.48h0M212.63,305.50h0M213.45,308.57h0M214.28,314.57h0M215.10,306.08h0M215.92,317.80h0M216.74,322.95h0M217.56,313.14h0M218.39,311.10h0M219.21,318.67h0M220.03,309.88h0M220.85,319.19h0M221.67,310.34h0M222.50,317.42h0M223.32,311.57h0M224.14,321.01h0M224.96,313.83h0M225.78,313.67h0M226.60,322.69h0M227.43,322.68h0M228.25,308.40h0M229.07,323.53h0M229.89,322.10h0M230.71,322.54h0M231.54,300.07h0M232.36,323.16h0M233.18,327.41h0M234.00,316.12h0M234.82,317.62h0M235.64,315.77h0M236.47,322.71h0M237.29,317.98h0M238.11,315.40h0M238.93,326.83h0M239.75,317.12h0M240.58,323.54h0M241.40,317.43h0M242.22,324.68h0M243.04,317.60h0M243.86,322.95h0M244.69,318.55h0M245.51,322.84h0M246.33,316.55h0M247.15,322.52h0M247.97,319.47h0M248.79,319.28h0M249.62,318.83h0M250.44,323.48h0M251.26,320.61h0M252.08,324.30h0" fill="none" stroke="#1f77b4" stroke-width="4.3" stroke-linecap="round"/>
<polyline points="170.72,255.94 171.54,259.03 172.36,264.62 173.18,271.74 174.01,279.29 174.83,286.35 175.65,292.32 176.47,296.98 177.29,300.38 178.11,302.76 178.94,304.42 179.76,305.64 180.58,306.66 181.40,307.63 182.22,308.60 183.05,309.55 183.87,310.43 184.69,311.12 185.51,311.52 186.33,311.54 187.16,311.16 187.98,310.49 188.80,309.72 189.62,309.11 190.44,308.89 191.26,309.12 192.09,309.70 192.91,310.38 193.73,310.91 194.55,311.13 195.37,311.00 196.20,310.64 197.02,310.23 197.84,310.01 198.66,310.18 199.48,310.86 200.30,312.04 201.13,313.52 201.95,315.02 202.77,316.23 203.59,316.91 204.41,316.97 205.24,316.42 206.06,315.39 206.88,314.08 207.70,312.71 208.52,311.46 209.35,310.48 210.17,309.83 210.99,309.54 211.81,309.60 212.63,309.99 213.45,310.65 214.28,311.52 215.10,312.45 215.92,313.31 216.74,313.99 217.56,314.43 218.39,314.65 219.21,314.74 220.03,314.78 220.85,314.86 221.67,315.02 222.50,315.29 223.32,315.66 224.14,316.11 224.96,316.59 225.78,317.07 226.60,317.49 227.43,317.81 228.25,318.02 229.07,318.12 229.89,318.15 230.71,318.17 231.54,318.22 232.36,318.33 233.18,318.48 234.00,318.64 234.82,318.81 235.64,318.99 236.47,319.20 237.29,319.46 238.11,319.75 238.93,320.03 239.75,320.28 240.58,320.47 241.40,320.57 242.22,320.61 243.04,320.58 243.86,320.51 244.69,320.43 245.51,320.35 246.33,320.31 247.15,320.34 247.97,320.45 248.79,320.67 249.62,320.96 250.44,321.27 251.26,321.54 252.08,321.70" fill="none" stroke="#ff7f0e" stroke-width="1.75" stroke-dasharray="1.8 2.97"/>
</g>
<rect x="166.65" y="194.45" width="89.5" height="138.9" fill="none" stroke="#444" stroke-width="1.0"/>
<line x1="169.90" y1="333.35" x2="169.90" y2="336.35" stroke="#444" stroke-width="1.0"/>
<text x="169.90" y="346.65" font-size="9.3" text-anchor="middle">0</text>
<line x1="210.99" y1="333.35" x2="210.99" y2="336.35" stroke="#444" stroke-width="1.0"/>
<text x="210.99" y="346.65" font-size="9.3" text-anchor="middle">50</text>
<line x1="252.08" y1="333.35" x2="252.08" y2="336.35" stroke="#444" stroke-width="1.0"/>
<text x="252.08" y="346.65" font-size="9.3" text-anchor="middle">100</text>
<line x1="163.65" y1="313.40" x2="166.65" y2="313.40" stroke="#444" stroke-width="1.0"/>
<text x="160.35" y="316.85" font-size="9.3" text-anchor="end">0.10</text>
<line x1="163.65" y1="287.82" x2="166.65" y2="287.82" stroke="#444" stroke-width="1.0"/>
<text x="160.35" y="291.27" font-size="9.3" text-anchor="end">0.15</text>
<line x1="163.65" y1="262.25" x2="166.65" y2="262.25" stroke="#444" stroke-width="1.0"/>
<text x="160.35" y="265.70" font-size="9.3" text-anchor="end">0.20</text>
<line x1="163.65" y1="236.67" x2="166.65" y2="236.67" stroke="#444" stroke-width="1.0"/>
<text x="160.35" y="240.12" font-size="9.3" text-anchor="end">0.25</text>
<line x1="163.65" y1="211.10" x2="166.65" y2="211.10" stroke="#444" stroke-width="1.0"/>
<text x="160.35" y="214.55" font-size="9.3" text-anchor="end">0.30</text>
</g>
<g>
<text x="347.90" y="189.25" font-size="10.1" text-anchor="middle">val/cls_loss</text>
<clipPath id="c6"><rect x="303.15" y="194.45" width="89.5" height="138.9"/></clipPath>
<g clip-path="url(#c6)">
<polyline points="307.22,270.59 308.04,279.32 308.86,200.98 309.68,292.89 310.51,297.16 311.33,303.75 312.15,304.91 312.97,312.02 313.79,312.77 314.61,316.97 315.44,315.60 316.26,314.61 317.08,319.07 317.90,309.96 318.72,319.05 319.55,317.03 320.37,317.95 321.19,319.94 322.01,321.01 322.83,319.91 323.66,318.50 324.48,321.01 325.30,319.39 326.12,316.55 326.94,322.10 327.76,321.63 328.59,322.37 329.41,322.08 330.23,322.00 331.05,321.67 331.87,320.02 332.70,317.52 333.52,321.43 334.34,321.93 335.16,320.81 335.98,323.04 336.80,323.19 337.63,323.07 338.45,321.75 339.27,323.44 340.09,322.23 340.91,323.79 341.74,322.36 342.56,321.98 343.38,322.75 344.20,324.51 345.02,323.11 345.85,325.47 346.67,323.59 347.49,325.15 348.31,323.50 349.13,325.86 349.95,323.06 350.78,324.37 351.60,322.37 352.42,324.19 353.24,323.65 354.06,323.59 354.89,325.15 355.71,325.38 356.53,324.06 357.35,324.30 358.17,325.28 359.00,325.45 359.82,324.66 360.64,324.89 361.46,324.74 362.28,324.83 363.10,324.95 363.93,325.93 364.75,325.13 365.57,325.98 366.39,326.12 367.21,326.25 368.04,325.51 368.86,326.41 369.68,325.87 370.50,326.52 371.32,325.98 372.14,326.67 372.97,326.19 373.79,326.81 374.61,326.20 375.43,326.99 376.25,326.19 377.08,326.99 377.90,326.37 378.72,327.14 379.54,327.20 380.36,326.45 381.19,326.46 382.01,327.32 382.83,326.74 383.65,327.36 384.47,326.76 385.29,327.32 386.12,327.44 386.94,327.45 387.76,326.95 388.58,327.50" fill="none" stroke="#1f77b4" stroke-width="1.75" stroke-linejoin="round"/>
<path d="M307.22,270.59h0M308.04,279.32h0M308.86,200.98h0M309.68,292.89h0M310.51,297.16h0M311.33,303.75h0M312.15,304.91h0M312.97,312.02h0M313.79,312.77h0M314.61,316.97h0M315.44,315.60h0M316.26,314.61h0M317.08,319.07h0M317.90,309.96h0M318.72,319.05h0M319.55,317.03h0M320.37,317.95h0M321.19,319.94h0M322.01,321.01h0M322.83,319.91h0M323.66,318.50h0M324.48,321.01h0M325.30,319.39h0M326.12,316.55h0M326.94,322.10h0M327.76,321.63h0M328.59,322.37h0M329.41,322.08h0M330.23,322.00h0M331.05,321.67h0M331.87,320.02h0M332.70,317.52h0M333.52,321.43h0M334.34,321.93h0M335.16,320.81h0M335.98,323.04h0M336.80,323.19h0M337.63,323.07h0M338.45,321.75h0M339.27,323.44h0M340.09,322.23h0M340.91,323.79h0M341.74,322.36h0M342.56,321.98h0M343.38,322.75h0M344.20,324.51h0M345.02,323.11h0M345.85,325.47h0M346.67,323.59h0M347.49,325.15h0M348.31,323.50h0M349.13,325.86h0M349.95,323.06h0M350.78,324.37h0M351.60,322.37h0M352.42,324.19h0M353.24,323.65h0M354.06,323.59h0M354.89,325.15h0M355.71,325.38h0M356.53,324.06h0M357.35,324.30h0M358.17,325.28h0M359.00,325.45h0M359.82,324.66h0M360.64,324.89h0M361.46,324.74h0M362.28,324.83h0M363.10,324.95h0M363.93,325.93h0M364.75,325.13h0M365.57,325.98h0M366.39,326.12h0M367.21,326.25h0M368.04,325.51h0M368.86,326.41h0M369.68,325.87h0M370.50,326.52h0M371.32,325.98h0M372.14,326.67h0M372.97,326.19h0M373.79,326.81h0M374.61,326.20h0M375.43,326.99h0M376.25,326.19h0M377.08,326.99h0M377.90,326.37h0M378.72,327.14h0M379.54,327.20h0M380.36,326.45h0M381.19,326.46h0M382.01,327.32h0M382.83,326.74h0M383.65,327.36h0M384.47,326.76h0M385.29,327.32h0M386.12,327.44h0M386.94,327.45h0M387.76,326.95h0M388.58,327.50h0" fill="none" stroke="#1f77b4" stroke-width="4.3" stroke-linecap="round"/>
<polyline points="307.22,268.43 308.04,270.48 308.86,274.43 309.68,279.94 310.51,286.40 311.33,293.08 312.15,299.25 312.97,304.44 313.79,308.45 314.61,311.33 315.44,313.29 316.26,314.60 317.08,315.51 317.90,316.22 318.72,316.86 319.55,317.48 320.37,318.07 321.19,318.60 322.01,319.02 322.83,319.34 323.66,319.58 324.48,319.79 325.30,320.02 326.12,320.27 326.94,320.56 327.76,320.82 328.59,321.02 329.41,321.12 330.23,321.12 331.05,321.06 331.87,321.02 332.70,321.05 333.52,321.18 334.34,321.41 335.16,321.69 335.98,321.99 336.80,322.25 337.63,322.46 338.45,322.60 339.27,322.71 340.09,322.79 340.91,322.87 341.74,322.98 342.56,323.13 343.38,323.32 344.20,323.54 345.02,323.75 345.85,323.94 346.67,324.07 347.49,324.14 348.31,324.15 349.13,324.11 349.95,324.04 350.78,323.99 351.60,323.96 352.42,323.99 353.24,324.08 354.06,324.20 354.89,324.35 355.71,324.49 356.53,324.62 357.35,324.72 358.17,324.80 359.00,324.86 359.82,324.92 360.64,324.98 361.46,325.05 362.28,325.15 363.10,325.27 363.93,325.40 364.75,325.55 365.57,325.69 366.39,325.81 367.21,325.91 368.04,326.00 368.86,326.08 369.68,326.15 370.50,326.22 371.32,326.29 372.14,326.36 372.97,326.42 373.79,326.48 374.61,326.53 375.43,326.58 376.25,326.63 377.08,326.68 377.90,326.73 378.72,326.77 379.54,326.81 380.36,326.85 381.19,326.89 382.01,326.94 382.83,326.99 383.65,327.05 384.47,327.11 385.29,327.17 386.12,327.21 386.94,327.25 387.76,327.27 388.58,327.28" fill="none" stroke="#ff7f0e" stroke-width="1.75" stroke-dasharray="1.8 2.97"/>
</g>
<rect x="303.15" y="194.45" width="89.5" height="138.9" fill="none" stroke="#444" stroke-width="1.0"/>
<line x1="306.40" y1="333.35" x2="306.40" y2="336.35" stroke="#444" stroke-width="1.0"/>
<text x="306.40" y="346.65" font-size="9.3" text-anchor="middle">0</text>
<line x1="347.49" y1="333.35" x2="347.49" y2="336.35" stroke="#444" stroke-width="1.0"/>
<text x="347.49" y="346.65" font-size="9.3" text-anchor="middle">50</text>
<line x1="388.58" y1="333.35" x2="388.58" y2="336.35" stroke="#444" stroke-width="1.0"/>
<text x="388.58" y="346.65" font-size="9.3" text-anchor="middle">100</text>
<line x1="300.15" y1="332.30" x2="303.15" y2="332.30" stroke="#444" stroke-width="1.0"/>
<text x="296.85" y="335.75" font-size="9.3" text-anchor="end">0.0</text>
<line x1="300.15" y1="309.48" x2="303.15" y2="309.48" stroke="#444" stroke-width="1.0"/>
<text x="296.85" y="312.93" font-size="9.3" text-anchor="end">0.5</text>
<line x1="300.15" y1="286.67" x2="303.15" y2="286.67" stroke="#444" stroke-width="1.0"/>
<text x="296.85" y="290.12" font-size="9.3" text-anchor="end">1.0</text>
<line x1="300.15" y1="263.85" x2="303.15" y2="263.85" stroke="#444" stroke-width="1.0"/>
<text x="296.85" y="267.30" font-size="9.3" text-anchor="end">1.5</text>
<line x1="300.15" y1="241.03" x2="303.15" y2="241.03" stroke="#444" stroke-width="1.0"/>
<text x="296.85" y="244.48" font-size="9.3" text-anchor="end">2.0</text>
<line x1="300.15" y1="218.22" x2="303.15" y2="218.22" stroke="#444" stroke-width="1.0"/>
<text x="296.85" y="221.67" font-size="9.3" text-anchor="end">2.5</text>
<line x1="300.15" y1="195.40" x2="303.15" y2="195.40" stroke="#444" stroke-width="1.0"/>
<text x="296.85" y="198.85" font-size="9.3" text-anchor="end">3.0</text>
</g>
<g>
<text x="484.50" y="189.25" font-size="10.1" text-anchor="middle">val/dfl_loss</text>
<clipPath id="c7"><rect x="439.75" y="194.45" width="89.5" height="138.9"/></clipPath>
<g clip-path="url(#c7)">
<polyline points="443.82,232.78 444.64,249.26 445.46,200.98 446.28,239.57 447.11,245.39 447.93,254.50 448.75,257.02 449.57,267.68 450.39,270.06 451.21,290.57 452.04,267.91 452.86,280.62 453.68,285.14 454.50,227.35 455.32,284.18 456.15,276.14 456.97,278.34 457.79,290.78 458.61,282.22 459.43,301.62 460.26,287.69 461.08,298.39 461.90,286.69 462.72,297.34 463.54,290.95 464.36,297.86 465.19,304.53 466.01,301.14 466.83,288.04 467.65,287.12 468.47,310.34 469.30,297.32 470.12,278.35 470.94,301.19 471.76,289.92 472.58,280.29 473.40,295.12 474.23,305.05 475.05,296.94 475.87,309.02 476.69,314.22 477.51,310.82 478.34,312.13 479.16,307.44 479.98,307.47 480.80,316.16 481.62,308.34 482.45,316.76 483.27,312.94 484.09,322.95 484.91,312.64 485.73,317.69 486.55,312.04 487.38,315.95 488.20,309.37 489.02,315.26 489.84,310.12 490.66,317.95 491.49,310.34 492.31,317.66 493.13,312.44 493.95,318.88 494.77,313.21 495.60,319.40 496.42,315.19 497.24,321.17 498.06,318.26 498.88,323.73 499.70,321.47 500.53,324.20 501.35,324.84 502.17,323.09 502.99,323.49 503.81,325.03 504.64,323.14 505.46,324.89 506.28,322.89 507.10,324.50 507.92,322.50 508.74,322.74 509.57,322.80 510.39,324.64 511.21,324.87 512.03,323.55 512.85,323.66 513.68,325.48 514.50,323.68 515.32,325.67 516.14,323.69 516.96,325.66 517.79,323.97 518.61,323.54 519.43,323.46 520.25,323.16 521.07,322.96 521.89,324.50 522.72,323.10 523.54,324.55 524.36,323.74 525.18,325.81" fill="none" stroke="#1f77b4" stroke-width="1.75" stroke-linejoin="round"/>
<path d="M443.82,232.78h0M444.64,249.26h0M445.46,200.98h0M446.28,239.57h0M447.11,245.39h0M447.93,254.50h0M448.75,257.02h0M449.57,267.68h0M450.39,270.06h0M451.21,290.57h0M452.04,267.91h0M452.86,280.62h0M453.68,285.14h0M454.50,227.35h0M455.32,284.18h0M456.15,276.14h0M456.97,278.34h0M457.79,290.78h0M458.61,282.22h0M459.43,301.62h0M460.26,287.69h0M461.08,298.39h0M461.90,286.69h0M462.72,297.34h0M463.54,290.95h0M464.36,297.86h0M465.19,304.53h0M466.01,301.14h0M466.83,288.04h0M467.65,287.12h0M468.47,310.34h0M469.30,297.32h0M470.12,278.35h0M470.94,301.19h0M471.76,289.92h0M472.58,280.29h0M473.40,295.12h0M474.23,305.05h0M475.05,296.94h0M475.87,309.02h0M476.69,314.22h0M477.51,310.82h0M478.34,312.13h0M479.16,307.44h0M479.98,307.47h0M480.80,316.16h0M481.62,308.34h0M482.45,316.76h0M483.27,312.94h0M484.09,322.95h0M484.91,312.64h0M485.73,317.69h0M486.55,312.04h0M487.38,315.95h0M488.20,309.37h0M489.02,315.26h0M489.84,310.12h0M490.66,317.95h0M491.49,310.34h0M492.31,317.66h0M493.13,312.44h0M493.95,318.88h0M494.77,313.21h0M495.60,319.40h0M496.42,315.19h0M497.24,321.17h0M498.06,318.26h0M498.88,323.73h0M499.70,321.47h0M500.53,324.20h0M501.35,324.84h0M502.17,323.09h0M502.99,323.49h0M503.81,325.03h0M504.64,323.14h0M505.46,324.89h0M506.28,322.89h0M507.10,324.50h0M507.92,322.50h0M508.74,322.74h0M509.57,322.80h0M510.39,324.64h0M511.21,324.87h0M512.03,323.55h0M512.85,323.66h0M513.68,325.48h0M514.50,323.68h0M515.32,325.67h0M516.14,323.69h0M516.96,325.66h0M517.79,323.97h0M518.61,323.54h0M519.43,323.46h0M520.25,323.16h0M521.07,322.96h0M521.89,324.50h0M522.72,323.10h0M523.54,324.55h0M524.36,323.74h0M525.18,325.81h0" fill="none" stroke="#1f77b4" stroke-width="4.3" stroke-linecap="round"/>
<polyline points="443.82,235.23 444.64,236.37 445.46,238.69 446.28,242.18 447.11,246.69 447.93,251.86 448.75,257.17 449.57,262.08 450.39,266.10 451.21,269.00 452.04,270.80 452.86,271.82 453.68,272.57 454.50,273.57 455.32,275.18 456.15,277.50 456.97,280.32 457.79,283.31 458.61,286.15 459.43,288.59 460.26,290.56 461.08,292.09 461.90,293.30 462.72,294.27 463.54,295.05 464.36,295.62 465.19,295.93 466.01,295.96 466.83,295.73 467.65,295.29 468.47,294.72 469.30,294.15 470.12,293.74 470.94,293.68 471.76,294.18 472.58,295.35 473.40,297.17 474.23,299.47 475.05,301.98 475.87,304.41 476.69,306.52 477.51,308.20 478.34,309.47 479.16,310.46 479.98,311.31 480.80,312.12 481.62,312.92 482.45,313.67 483.27,314.28 484.09,314.66 484.91,314.79 485.73,314.68 486.55,314.44 487.38,314.15 488.20,313.93 489.02,313.84 489.84,313.90 490.66,314.12 491.49,314.46 492.31,314.90 493.13,315.42 493.95,316.03 494.77,316.72 495.60,317.50 496.42,318.36 497.24,319.27 498.06,320.20 498.88,321.09 499.70,321.89 500.53,322.55 501.35,323.06 502.17,323.41 502.99,323.62 503.81,323.73 504.64,323.76 505.46,323.73 506.28,323.67 507.10,323.62 507.92,323.59 508.74,323.62 509.57,323.70 510.39,323.82 511.21,323.96 512.03,324.10 512.85,324.23 513.68,324.32 514.50,324.38 515.32,324.38 516.14,324.33 516.96,324.23 517.79,324.10 518.61,323.96 519.43,323.86 520.25,323.80 521.07,323.81 521.89,323.89 522.72,324.01 523.54,324.16 524.36,324.28 525.18,324.35" fill="none" stroke="#ff7f0e" stroke-width="1.75" stroke-dasharray="1.8 2.97"/>
</g>
<rect x="439.75" y="194.45" width="89.5" height="138.9" fill="none" stroke="#444" stroke-width="1.0"/>
<line x1="443.00" y1="333.35" x2="443.00" y2="336.35" stroke="#444" stroke-width="1.0"/>
<text x="443.00" y="346.65" font-size="9.3" text-anchor="middle">0</text>
<line x1="484.09" y1="333.35" x2="484.09" y2="336.35" stroke="#444" stroke-width="1.0"/>
<text x="484.09" y="346.65" font-size="9.3" text-anchor="middle">50</text>
<line x1="525.18" y1="333.35" x2="525.18" y2="336.35" stroke="#444" stroke-width="1.0"/>
<text x="525.18" y="346.65" font-size="9.3" text-anchor="middle">100</text>
<line x1="436.75" y1="312.40" x2="439.75" y2="312.40" stroke="#444" stroke-width="1.0"/>
<text x="433.45" y="315.85" font-size="9.3" text-anchor="end">0.775</text>
<line x1="436.75" y1="288.35" x2="439.75" y2="288.35" stroke="#444" stroke-width="1.0"/>
<text x="433.45" y="291.80" font-size="9.3" text-anchor="end">0.800</text>
<line x1="436.75" y1="264.30" x2="439.75" y2="264.30" stroke="#444" stroke-width="1.0"/>
<text x="433.45" y="267.75" font-size="9.3" text-anchor="end">0.825</text>
<line x1="436.75" y1="240.25" x2="439.75" y2="240.25" stroke="#444" stroke-width="1.0"/>
<text x="433.45" y="243.70" font-size="9.3" text-anchor="end">0.850</text>
<line x1="436.75" y1="216.20" x2="439.75" y2="216.20" stroke="#444" stroke-width="1.0"/>
<text x="433.45" y="219.65" font-size="9.3" text-anchor="end">0.875</text>
</g>
<g>
<text x="76.28" y="376.65" font-size="10.1" text-anchor="middle">metrics/precision(B)</text>
<clipPath id="c8"><rect x="31.15" y="381.85" width="90.25" height="140.25"/></clipPath>
<g clip-path="url(#c8)">
<polyline points="35.25,392.04 36.08,428.43 36.91,516.03 37.74,394.15 38.57,388.35 39.40,388.35 40.22,388.35 41.05,388.35 41.88,388.35 42.71,391.25 43.54,388.35 44.37,388.35 45.20,388.35 46.03,388.35 46.85,388.35 47.68,388.35 48.51,388.35 49.34,388.35 50.17,388.35 51.00,388.35 51.83,388.35 52.66,388.35 53.48,388.35 54.31,391.25 55.14,388.35 55.97,388.35 56.80,388.35 57.63,388.35 58.46,388.35 59.29,388.35 60.11,388.35 60.94,388.35 61.77,388.35 62.60,388.35 63.43,388.35 64.26,388.35 65.09,388.35 65.92,388.35 66.74,388.35 67.57,388.35 68.40,388.35 69.23,388.35 70.06,388.35 70.89,388.35 71.72,388.35 72.55,388.35 73.37,388.35 74.20,388.35 75.03,388.35 75.86,388.35 76.69,388.35 77.52,388.35 78.35,388.35 79.18,388.35 80.00,388.35 80.83,388.35 81.66,388.35 82.49,388.35 83.32,388.35 84.15,388.35 84.98,388.35 85.81,388.35 86.63,388.35 87.46,388.35 88.29,388.35 89.12,388.35 89.95,388.35 90.78,388.35 91.61,388.35 92.44,388.35 93.26,388.35 94.09,388.35 94.92,388.35 95.75,388.35 96.58,388.35 97.41,388.35 98.24,388.35 99.07,388.35 99.89,388.35 100.72,388.35 101.55,388.35 102.38,388.35 103.21,388.35 104.04,388.35 104.87,388.35 105.70,388.35 106.52,388.35 107.35,388.35 108.18,388.35 109.01,388.35 109.84,388.35 110.67,388.35 111.50,388.35 112.33,388.35 113.15,388.35 113.98,388.35 114.81,388.35 115.64,388.35 116.47,388.35 117.30,388.35" fill="none" stroke="#1f77b4" stroke-width="1.75" stroke-linejoin="round"/>
<path d="M35.25,392.04h0M36.08,428.43h0M36.91,516.03h0M37.74,394.15h0M38.57,388.35h0M39.40,388.35h0M40.22,388.35h0M41.05,388.35h0M41.88,388.35h0M42.71,391.25h0M43.54,388.35h0M44.37,388.35h0M45.20,388.35h0M46.03,388.35h0M46.85,388.35h0M47.68,388.35h0M48.51,388.35h0M49.34,388.35h0M50.17,388.35h0M51.00,388.35h0M51.83,388.35h0M52.66,388.35h0M53.48,388.35h0M54.31,391.25h0M55.14,388.35h0M55.97,388.35h0M56.80,388.35h0M57.63,388.35h0M58.46,388.35h0M59.29,388.35h0M60.11,388.35h0M60.94,388.35h0M61.77,388.35h0M62.60,388.35h0M63.43,388.35h0M64.26,388.35h0M65.09,388.35h0M65.92,388.35h0M66.74,388.35h0M67.57,388.35h0M68.40,388.35h0M69.23,388.35h0M70.06,388.35h0M70.89,388.35h0M71.72,388.35h0M72.55,388.35h0M73.37,388.35h0M74.20,388.35h0M75.03,388.35h0M75.86,388.35h0M76.69,388.35h0M77.52,388.35h0M78.35,388.35h0M79.18,388.35h0M80.00,388.35h0M80.83,388.35h0M81.66,388.35h0M82.49,388.35h0M83.32,388.35h0M84.15,388.35h0M84.98,388.35h0M85.81,388.35h0M86.63,388.35h0M87.46,388.35h0M88.29,388.35h0M89.12,388.35h0M89.95,388.35h0M90.78,388.35h0M91.61,388.35h0M92.44,388.35h0M93.26,388.35h0M94.09,388.35h0M94.92,388.35h0M95.75,388.35h0M96.58,388.35h0M97.41,388.35h0M98.24,388.35h0M99.07,388.35h0M99.89,388.35h0M100.72,388.35h0M101.55,388.35h0M102.38,388.35h0M103.21,388.35h0M104.04,388.35h0M104.87,388.35h0M105.70,388.35h0M106.52,388.35h0M107.35,388.35h0M108.18,388.35h0M109.01,388.35h0M109.84,388.35h0M110.67,388.35h0M111.50,388.35h0M112.33,388.35h0M113.15,388.35h0M113.98,388.35h0M114.81,388.35h0M115.64,388.35h0M116.47,388.35h0M117.30,388.35h0" fill="none" stroke="#1f77b4" stroke-width="4.3" stroke-linecap="round"/>
<polyline points="35.25,423.30 36.08,421.64 36.91,418.35 37.74,413.68 38.57,408.19 39.40,402.65 40.22,397.80 41.05,394.10 41.88,391.62 42.71,390.13 43.54,389.31 44.37,388.89 45.20,388.67 46.03,388.54 46.85,388.46 47.68,388.41 48.51,388.40 49.34,388.41 50.17,388.45 51.00,388.51 51.83,388.58 52.66,388.66 53.48,388.71 54.31,388.74 55.14,388.71 55.97,388.66 56.80,388.58 57.63,388.51 58.46,388.45 59.29,388.40 60.11,388.38 60.94,388.36 61.77,388.35 62.60,388.35 63.43,388.35 64.26,388.35 65.09,388.35 65.92,388.35 66.74,388.35 67.57,388.35 68.40,388.35 69.23,388.35 70.06,388.35 70.89,388.35 71.72,388.35 72.55,388.35 73.37,388.35 74.20,388.35 75.03,388.35 75.86,388.35 76.69,388.35 77.52,388.35 78.35,388.35 79.18,388.35 80.00,388.35 80.83,388.35 81.66,388.35 82.49,388.35 83.32,388.35 84.15,388.35 84.98,388.35 85.81,388.35 86.63,388.35 87.46,388.35 88.29,388.35 89.12,388.35 89.95,388.35 90.78,388.35 91.61,388.35 92.44,388.35 93.26,388.35 94.09,388.35 94.92,388.35 95.75,388.35 96.58,388.35 97.41,388.35 98.24,388.35 99.07,388.35 99.89,388.35 100.72,388.35 101.55,388.35 102.38,388.35 103.21,388.35 104.04,388.35 104.87,388.35 105.70,388.35 106.52,388.35 107.35,388.35 108.18,388.35 109.01,388.35 109.84,388.35 110.67,388.35 111.50,388.35 112.33,388.35 113.15,388.35 113.98,388.35 114.81,388.35 115.64,388.35 116.47,388.35 117.30,388.35" fill="none" stroke="#ff7f0e" stroke-width="1.75" stroke-dasharray="1.8 2.97"/>
</g>
<rect x="31.15" y="381.85" width="90.25" height="140.25" fill="none" stroke="#444" stroke-width="1.0"/>
<line x1="34.42" y1="522.10" x2="34.42" y2="525.10" stroke="#444" stroke-width="1.0"/>
<text x="34.42" y="535.40" font-size="9.3" text-anchor="middle">0</text>
<line x1="75.86" y1="522.10" x2="75.86" y2="525.10" stroke="#444" stroke-width="1.0"/>
<text x="75.86" y="535.40" font-size="9.3" text-anchor="middle">50</text>
<line x1="117.30" y1="522.10" x2="117.30" y2="525.10" stroke="#444" stroke-width="1.0"/>
<text x="117.30" y="535.40" font-size="9.3" text-anchor="middle">100</text>
<line x1="28.15" y1="520.20" x2="31.15" y2="520.20" stroke="#444" stroke-width="1.0"/>
<text x="24.85" y="523.65" font-size="9.3" text-anchor="end">0.75</text>
<line x1="28.15" y1="493.83" x2="31.15" y2="493.83" stroke="#444" stroke-width="1.0"/>
<text x="24.85" y="497.28" font-size="9.3" text-anchor="end">0.80</text>
<line x1="28.15" y1="467.46" x2="31.15" y2="467.46" stroke="#444" stroke-width="1.0"/>
<text x="24.85" y="470.91" font-size="9.3" text-anchor="end">0.85</text>
<line x1="28.15" y1="441.09" x2="31.15" y2="441.09" stroke="#444" stroke-width="1.0"/>
<text x="24.85" y="444.54" font-size="9.3" text-anchor="end">0.90</text>
<line x1="28.15" y1="414.72" x2="31.15" y2="414.72" stroke="#444" stroke-width="1.0"/>
<text x="24.85" y="418.17" font-size="9.3" text-anchor="end">0.95</text>
<line x1="28.15" y1="388.35" x2="31.15" y2="388.35" stroke="#444" stroke-width="1.0"/>
<text x="24.85" y="391.80" font-size="9.3" text-anchor="end">1.00</text>
</g>
<g>
<text x="214.07" y="376.65" font-size="10.1" text-anchor="middle">metrics/recall(B)</text>
<clipPath id="c9"><rect x="168.95" y="381.85" width="90.25" height="140.25"/></clipPath>
<g clip-path="url(#c9)">
<polyline points="173.05,481.52 173.88,442.80 174.71,515.68 175.54,442.80 176.37,416.00 177.20,410.04 178.02,442.80 178.85,405.08 179.68,410.04 180.51,405.08 181.34,410.04 182.17,405.08 183.00,399.12 183.83,484.50 184.65,416.00 185.48,405.08 186.31,399.12 187.14,405.08 187.97,399.12 188.80,399.12 189.63,405.08 190.46,399.12 191.28,416.99 192.11,399.12 192.94,415.01 193.77,410.04 194.60,399.12 195.43,399.12 196.26,405.08 197.09,399.12 197.91,405.08 198.74,399.12 199.57,393.66 200.40,398.23 201.23,398.23 202.06,393.66 202.89,398.23 203.72,398.23 204.54,398.23 205.37,393.66 206.20,398.23 207.03,398.23 207.86,393.66 208.69,398.23 209.52,393.66 210.35,398.23 211.17,393.66 212.00,393.66 212.83,398.23 213.66,393.66 214.49,393.66 215.32,398.23 216.15,393.66 216.98,393.66 217.80,393.66 218.63,398.23 219.46,398.23 220.29,393.66 221.12,393.66 221.95,393.66 222.78,388.20 223.61,388.20 224.43,388.20 225.26,393.66 226.09,393.66 226.92,388.20 227.75,393.66 228.58,388.20 229.41,388.20 230.24,388.20 231.06,388.20 231.89,393.66 232.72,393.66 233.55,393.66 234.38,393.66 235.21,393.66 236.04,393.66 236.87,393.66 237.69,393.66 238.52,393.66 239.35,393.66 240.18,393.66 241.01,393.66 241.84,393.66 242.67,393.66 243.50,388.20 244.32,388.20 245.15,388.20 245.98,388.20 246.81,393.66 247.64,393.66 248.47,393.66 249.30,388.20 250.13,388.20 250.95,393.66 251.78,388.20 252.61,388.20 253.44,393.66 254.27,393.66 255.10,393.66" fill="none" stroke="#1f77b4" stroke-width="1.75" stroke-linejoin="round"/>
<path d="M173.05,481.52h0M173.88,442.80h0M174.71,515.68h0M175.54,442.80h0M176.37,416.00h0M177.20,410.04h0M178.02,442.80h0M178.85,405.08h0M179.68,410.04h0M180.51,405.08h0M181.34,410.04h0M182.17,405.08h0M183.00,399.12h0M183.83,484.50h0M184.65,416.00h0M185.48,405.08h0M186.31,399.12h0M187.14,405.08h0M187.97,399.12h0M188.80,399.12h0M189.63,405.08h0M190.46,399.12h0M191.28,416.99h0M192.11,399.12h0M192.94,415.01h0M193.77,410.04h0M194.60,399.12h0M195.43,399.12h0M196.26,405.08h0M197.09,399.12h0M197.91,405.08h0M198.74,399.12h0M199.57,393.66h0M200.40,398.23h0M201.23,398.23h0M202.06,393.66h0M202.89,398.23h0M203.72,398.23h0M204.54,398.23h0M205.37,393.66h0M206.20,398.23h0M207.03,398.23h0M207.86,393.66h0M208.69,398.23h0M209.52,393.66h0M210.35,398.23h0M211.17,393.66h0M212.00,393.66h0M212.83,398.23h0M213.66,393.66h0M214.49,393.66h0M215.32,398.23h0M216.15,393.66h0M216.98,393.66h0M217.80,393.66h0M218.63,398.23h0M219.46,398.23h0M220.29,393.66h0M221.12,393.66h0M221.95,393.66h0M222.78,388.20h0M223.61,388.20h0M224.43,388.20h0M225.26,393.66h0M226.09,393.66h0M226.92,388.20h0M227.75,393.66h0M228.58,388.20h0M229.41,388.20h0M230.24,388.20h0M231.06,388.20h0M231.89,393.66h0M232.72,393.66h0M233.55,393.66h0M234.38,393.66h0M235.21,393.66h0M236.04,393.66h0M236.87,393.66h0M237.69,393.66h0M238.52,393.66h0M239.35,393.66h0M240.18,393.66h0M241.01,393.66h0M241.84,393.66h0M242.67,393.66h0M243.50,388.20h0M244.32,388.20h0M245.15,388.20h0M245.98,388.20h0M246.81,393.66h0M247.64,393.66h0M248.47,393.66h0M249.30,388.20h0M250.13,388.20h0M250.95,393.66h0M251.78,388.20h0M252.61,388.20h0M253.44,393.66h0M254.27,393.66h0M255.10,393.66h0" fill="none" stroke="#1f77b4" stroke-width="4.3" stroke-linecap="round"/>
<polyline points="173.05,461.68 173.88,458.97 174.71,453.91 175.54,447.20 176.37,439.73 177.20,432.41 178.02,426.02 178.85,421.06 179.68,417.77 180.51,416.11 181.34,415.78 182.17,416.20 183.00,416.64 183.83,416.44 184.65,415.25 185.48,413.13 186.31,410.55 187.14,408.08 187.97,406.21 188.80,405.14 189.63,404.82 190.46,404.97 191.28,405.27 192.11,405.45 192.94,405.33 193.77,404.87 194.60,404.12 195.43,403.21 196.26,402.24 197.09,401.28 197.91,400.35 198.74,399.48 199.57,398.72 200.40,398.10 201.23,397.63 202.06,397.32 202.89,397.12 203.72,396.99 204.54,396.88 205.37,396.77 206.20,396.62 207.03,396.45 207.86,396.26 208.69,396.06 209.52,395.86 210.35,395.67 211.17,395.51 212.00,395.38 212.83,395.27 213.66,395.20 214.49,395.15 215.32,395.13 216.15,395.12 216.98,395.10 217.80,395.01 218.63,394.80 219.46,394.42 220.29,393.87 221.12,393.18 221.95,392.46 222.78,391.81 223.61,391.32 224.43,391.00 225.26,390.80 226.09,390.66 226.92,390.52 227.75,390.39 228.58,390.32 229.41,390.37 230.24,390.60 231.06,391.01 231.89,391.54 232.72,392.11 233.55,392.62 234.38,393.03 235.21,393.31 236.04,393.47 236.87,393.55 237.69,393.55 238.52,393.47 239.35,393.31 240.18,393.03 241.01,392.64 241.84,392.15 242.67,391.62 243.50,391.15 244.32,390.82 245.15,390.67 245.98,390.68 246.81,390.77 247.64,390.86 248.47,390.89 249.30,390.88 250.13,390.87 250.95,390.94 251.78,391.12 252.61,391.40 253.44,391.74 254.27,392.05 255.10,392.23" fill="none" stroke="#ff7f0e" stroke-width="1.75" stroke-dasharray="1.8 2.97"/>
</g>
<rect x="168.95" y="381.85" width="90.25" height="140.25" fill="none" stroke="#444" stroke-width="1.0"/>
<line x1="172.22" y1="522.10" x2="172.22" y2="525.10" stroke="#444" stroke-width="1.0"/>
<text x="172.22" y="535.40" font-size="9.3" text-anchor="middle">0</text>
<line x1="213.66" y1="522.10" x2="213.66" y2="525.10" stroke="#444" stroke-width="1.0"/>
<text x="213.66" y="535.40" font-size="9.3" text-anchor="middle">50</text>
<line x1="255.10" y1="522.10" x2="255.10" y2="525.10" stroke="#444" stroke-width="1.0"/>
<text x="255.10" y="535.40" font-size="9.3" text-anchor="middle">100</text>
<line x1="165.95" y1="512.30" x2="168.95" y2="512.30" stroke="#444" stroke-width="1.0"/>
<text x="162.65" y="515.75" font-size="9.3" text-anchor="end">0.875</text>
<line x1="165.95" y1="487.48" x2="168.95" y2="487.48" stroke="#444" stroke-width="1.0"/>
<text x="162.65" y="490.93" font-size="9.3" text-anchor="end">0.900</text>
<line x1="165.95" y1="462.66" x2="168.95" y2="462.66" stroke="#444" stroke-width="1.0"/>
<text x="162.65" y="466.11" font-size="9.3" text-anchor="end">0.925</text>
<line x1="165.95" y1="437.84" x2="168.95" y2="437.84" stroke="#444" stroke-width="1.0"/>
<text x="162.65" y="441.29" font-size="9.3" text-anchor="end">0.950</text>
<line x1="165.95" y1="413.02" x2="168.95" y2="413.02" stroke="#444" stroke-width="1.0"/>
<text x="162.65" y="416.47" font-size="9.3" text-anchor="end">0.975</text>
<line x1="165.95" y1="388.20" x2="168.95" y2="388.20" stroke="#444" stroke-width="1.0"/>
<text x="162.65" y="391.65" font-size="9.3" text-anchor="end">1.000</text>
</g>
<g>
<text x="351.73" y="376.65" font-size="10.1" text-anchor="middle">metrics/precision(M)</text>
<clipPath id="c10"><rect x="306.6" y="381.85" width="90.25" height="140.25"/></clipPath>
<g clip-path="url(#c10)">
<polyline points="310.70,392.04 311.53,428.43 312.36,516.03 313.19,394.15 314.02,388.35 314.85,388.35 315.67,388.35 316.50,388.35 317.33,388.35 318.16,391.25 318.99,388.35 319.82,388.35 320.65,388.35 321.48,388.35 322.30,388.35 323.13,388.35 323.96,388.35 324.79,388.35 325.62,388.35 326.45,388.35 327.28,388.35 328.11,388.35 328.93,388.35 329.76,391.25 330.59,388.35 331.42,388.35 332.25,388.35 333.08,388.35 333.91,388.35 334.74,388.35 335.56,388.35 336.39,388.35 337.22,388.35 338.05,388.35 338.88,388.35 339.71,388.35 340.54,388.35 341.37,388.35 342.19,388.35 343.02,388.35 343.85,388.35 344.68,388.35 345.51,388.35 346.34,388.35 347.17,388.35 348.00,388.35 348.82,388.35 349.65,388.35 350.48,388.35 351.31,388.35 352.14,388.35 352.97,388.35 353.80,388.35 354.63,388.35 355.45,388.35 356.28,388.35 357.11,388.35 357.94,388.35 358.77,388.35 359.60,388.35 360.43,388.35 361.26,388.35 362.08,388.35 362.91,388.35 363.74,388.35 364.57,388.35 365.40,388.35 366.23,388.35 367.06,388.35 367.89,388.35 368.71,388.35 369.54,388.35 370.37,388.35 371.20,388.35 372.03,388.35 372.86,388.35 373.69,388.35 374.52,388.35 375.34,388.35 376.17,388.35 377.00,388.35 377.83,388.35 378.66,388.35 379.49,388.35 380.32,388.35 381.15,388.35 381.97,388.35 382.80,388.35 383.63,388.35 384.46,388.35 385.29,388.35 386.12,388.35 386.95,388.35 387.78,388.35 388.60,388.35 389.43,388.35 390.26,388.35 391.09,388.35 391.92,388.35 392.75,388.35" fill="none" stroke="#1f77b4" stroke-width="1.75" stroke-linejoin="round"/>
<path d="M310.70,392.04h0M311.53,428.43h0M312.36,516.03h0M313.19,394.15h0M314.02,388.35h0M314.85,388.35h0M315.67,388.35h0M316.50,388.35h0M317.33,388.35h0M318.16,391.25h0M318.99,388.35h0M319.82,388.35h0M320.65,388.35h0M321.48,388.35h0M322.30,388.35h0M323.13,388.35h0M323.96,388.35h0M324.79,388.35h0M325.62,388.35h0M326.45,388.35h0M327.28,388.35h0M328.11,388.35h0M328.93,388.35h0M329.76,391.25h0M330.59,388.35h0M331.42,388.35h0M332.25,388.35h0M333.08,388.35h0M333.91,388.35h0M334.74,388.35h0M335.56,388.35h0M336.39,388.35h0M337.22,388.35h0M338.05,388.35h0M338.88,388.35h0M339.71,388.35h0M340.54,388.35h0M341.37,388.35h0M342.19,388.35h0M343.02,388.35h0M343.85,388.35h0M344.68,388.35h0M345.51,388.35h0M346.34,388.35h0M347.17,388.35h0M348.00,388.35h0M348.82,388.35h0M349.65,388.35h0M350.48,388.35h0M351.31,388.35h0M352.14,388.35h0M352.97,388.35h0M353.80,388.35h0M354.63,388.35h0M355.45,388.35h0M356.28,388.35h0M357.11,388.35h0M357.94,388.35h0M358.77,388.35h0M359.60,388.35h0M360.43,388.35h0M361.26,388.35h0M362.08,388.35h0M362.91,388.35h0M363.74,388.35h0M364.57,388.35h0M365.40,388.35h0M366.23,388.35h0M367.06,388.35h0M367.89,388.35h0M368.71,388.35h0M369.54,388.35h0M370.37,388.35h0M371.20,388.35h0M372.03,388.35h0M372.86,388.35h0M373.69,388.35h0M374.52,388.35h0M375.34,388.35h0M376.17,388.35h0M377.00,388.35h0M377.83,388.35h0M378.66,388.35h0M379.49,388.35h0M380.32,388.35h0M381.15,388.35h0M381.97,388.35h0M382.80,388.35h0M383.63,388.35h0M384.46,388.35h0M385.29,388.35h0M386.12,388.35h0M386.95,388.35h0M387.78,388.35h0M388.60,388.35h0M389.43,388.35h0M390.26,388.35h0M391.09,388.35h0M391.92,388.35h0M392.75,388.35h0" fill="none" stroke="#1f77b4" stroke-width="4.3" stroke-linecap="round"/>
<polyline points="310.70,423.30 311.53,421.64 312.36,418.35 313.19,413.68 314.02,408.19 314.85,402.65 315.67,397.80 316.50,394.10 317.33,391.62 318.16,390.13 318.99,389.31 319.82,388.89 320.65,388.67 321.48,388.54 322.30,388.46 323.13,388.41 323.96,388.40 324.79,388.41 325.62,388.45 326.45,388.51 327.28,388.58 328.11,388.66 328.93,388.71 329.76,388.74 330.59,388.71 331.42,388.66 332.25,388.58 333.08,388.51 333.91,388.45 334.74,388.40 335.56,388.38 336.39,388.36 337.22,388.35 338.05,388.35 338.88,388.35 339.71,388.35 340.54,388.35 341.37,388.35 342.19,388.35 343.02,388.35 343.85,388.35 344.68,388.35 345.51,388.35 346.34,388.35 347.17,388.35 348.00,388.35 348.82,388.35 349.65,388.35 350.48,388.35 351.31,388.35 352.14,388.35 352.97,388.35 353.80,388.35 354.63,388.35 355.45,388.35 356.28,388.35 357.11,388.35 357.94,388.35 358.77,388.35 359.60,388.35 360.43,388.35 361.26,388.35 362.08,388.35 362.91,388.35 363.74,388.35 364.57,388.35 365.40,388.35 366.23,388.35 367.06,388.35 367.89,388.35 368.71,388.35 369.54,388.35 370.37,388.35 371.20,388.35 372.03,388.35 372.86,388.35 373.69,388.35 374.52,388.35 375.34,388.35 376.17,388.35 377.00,388.35 377.83,388.35 378.66,388.35 379.49,388.35 380.32,388.35 381.15,388.35 381.97,388.35 382.80,388.35 383.63,388.35 384.46,388.35 385.29,388.35 386.12,388.35 386.95,388.35 387.78,388.35 388.60,388.35 389.43,388.35 390.26,388.35 391.09,388.35 391.92,388.35 392.75,388.35" fill="none" stroke="#ff7f0e" stroke-width="1.75" stroke-dasharray="1.8 2.97"/>
</g>
<rect x="306.6" y="381.85" width="90.25" height="140.25" fill="none" stroke="#444" stroke-width="1.0"/>
<line x1="309.87" y1="522.10" x2="309.87" y2="525.10" stroke="#444" stroke-width="1.0"/>
<text x="309.87" y="535.40" font-size="9.3" text-anchor="middle">0</text>
<line x1="351.31" y1="522.10" x2="351.31" y2="525.10" stroke="#444" stroke-width="1.0"/>
<text x="351.31" y="535.40" font-size="9.3" text-anchor="middle">50</text>
<line x1="392.75" y1="522.10" x2="392.75" y2="525.10" stroke="#444" stroke-width="1.0"/>
<text x="392.75" y="535.40" font-size="9.3" text-anchor="middle">100</text>
<line x1="303.60" y1="520.20" x2="306.60" y2="520.20" stroke="#444" stroke-width="1.0"/>
<text x="300.30" y="523.65" font-size="9.3" text-anchor="end">0.75</text>
<line x1="303.60" y1="493.83" x2="306.60" y2="493.83" stroke="#444" stroke-width="1.0"/>
<text x="300.30" y="497.28" font-size="9.3" text-anchor="end">0.80</text>
<line x1="303.60" y1="467.46" x2="306.60" y2="467.46" stroke="#444" stroke-width="1.0"/>
<text x="300.30" y="470.91" font-size="9.3" text-anchor="end">0.85</text>
<line x1="303.60" y1="441.09" x2="306.60" y2="441.09" stroke="#444" stroke-width="1.0"/>
<text x="300.30" y="444.54" font-size="9.3" text-anchor="end">0.90</text>
<line x1="303.60" y1="414.72" x2="306.60" y2="414.72" stroke="#444" stroke-width="1.0"/>
<text x="300.30" y="418.17" font-size="9.3" text-anchor="end">0.95</text>
<line x1="303.60" y1="388.35" x2="306.60" y2="388.35" stroke="#444" stroke-width="1.0"/>
<text x="300.30" y="391.80" font-size="9.3" text-anchor="end">1.00</text>
</g>
<g>
<text x="489.50" y="376.65" font-size="10.1" text-anchor="middle">metrics/recall(M)</text>
<clipPath id="c11"><rect x="444.38" y="381.85" width="90.25" height="140.25"/></clipPath>
<g clip-path="url(#c11)">
<polyline points="448.48,481.52 449.31,442.80 450.14,515.68 450.97,442.80 451.80,416.00 452.63,410.04 453.45,442.80 454.28,405.08 455.11,410.04 455.94,405.08 456.77,410.04 457.60,405.08 458.43,399.12 459.26,484.50 460.08,416.00 460.91,405.08 461.74,399.12 462.57,405.08 463.40,399.12 464.23,399.12 465.06,405.08 465.89,399.12 466.71,416.99 467.54,399.12 468.37,415.01 469.20,410.04 470.03,399.12 470.86,399.12 471.69,405.08 472.52,399.12 473.34,405.08 474.17,399.12 475.00,393.66 475.83,398.23 476.66,398.23 477.49,393.66 478.32,398.23 479.15,398.23 479.97,398.23 480.80,393.66 481.63,398.23 482.46,398.23 483.29,393.66 484.12,398.23 484.95,393.66 485.78,398.23 486.60,393.66 487.43,393.66 488.26,398.23 489.09,393.66 489.92,393.66 490.75,398.23 491.58,393.66 492.41,393.66 493.23,393.66 494.06,398.23 494.89,398.23 495.72,393.66 496.55,393.66 497.38,393.66 498.21,388.20 499.04,388.20 499.86,388.20 500.69,393.66 501.52,393.66 502.35,388.20 503.18,393.66 504.01,388.20 504.84,388.20 505.67,388.20 506.49,388.20 507.32,393.66 508.15,393.66 508.98,393.66 509.81,393.66 510.64,393.66 511.47,393.66 512.30,393.66 513.12,393.66 513.95,393.66 514.78,393.66 515.61,393.66 516.44,393.66 517.27,393.66 518.10,393.66 518.93,388.20 519.75,388.20 520.58,388.20 521.41,388.20 522.24,393.66 523.07,393.66 523.90,393.66 524.73,388.20 525.56,388.20 526.38,393.66 527.21,388.20 528.04,388.20 528.87,393.66 529.70,393.66 530.53,393.66" fill="none" stroke="#1f77b4" stroke-width="1.75" stroke-linejoin="round"/>
<path d="M448.48,481.52h0M449.31,442.80h0M450.14,515.68h0M450.97,442.80h0M451.80,416.00h0M452.63,410.04h0M453.45,442.80h0M454.28,405.08h0M455.11,410.04h0M455.94,405.08h0M456.77,410.04h0M457.60,405.08h0M458.43,399.12h0M459.26,484.50h0M460.08,416.00h0M460.91,405.08h0M461.74,399.12h0M462.57,405.08h0M463.40,399.12h0M464.23,399.12h0M465.06,405.08h0M465.89,399.12h0M466.71,416.99h0M467.54,399.12h0M468.37,415.01h0M469.20,410.04h0M470.03,399.12h0M470.86,399.12h0M471.69,405.08h0M472.52,399.12h0M473.34,405.08h0M474.17,399.12h0M475.00,393.66h0M475.83,398.23h0M476.66,398.23h0M477.49,393.66h0M478.32,398.23h0M479.15,398.23h0M479.97,398.23h0M480.80,393.66h0M481.63,398.23h0M482.46,398.23h0M483.29,393.66h0M484.12,398.23h0M484.95,393.66h0M485.78,398.23h0M486.60,393.66h0M487.43,393.66h0M488.26,398.23h0M489.09,393.66h0M489.92,393.66h0M490.75,398.23h0M491.58,393.66h0M492.41,393.66h0M493.23,393.66h0M494.06,398.23h0M494.89,398.23h0M495.72,393.66h0M496.55,393.66h0M497.38,393.66h0M498.21,388.20h0M499.04,388.20h0M499.86,388.20h0M500.69,393.66h0M501.52,393.66h0M502.35,388.20h0M503.18,393.66h0M504.01,388.20h0M504.84,388.20h0M505.67,388.20h0M506.49,388.20h0M507.32,393.66h0M508.15,393.66h0M508.98,393.66h0M509.81,393.66h0M510.64,393.66h0M511.47,393.66h0M512.30,393.66h0M513.12,393.66h0M513.95,393.66h0M514.78,393.66h0M515.61,393.66h0M516.44,393.66h0M517.27,393.66h0M518.10,393.66h0M518.93,388.20h0M519.75,388.20h0M520.58,388.20h0M521.41,388.20h0M522.24,393.66h0M523.07,393.66h0M523.90,393.66h0M524.73,388.20h0M525.56,388.20h0M526.38,393.66h0M527.21,388.20h0M528.04,388.20h0M528.87,393.66h0M529.70,393.66h0M530.53,393.66h0" fill="none" stroke="#1f77b4" stroke-width="4.3" stroke-linecap="round"/>
<polyline points="448.48,461.68 449.31,458.97 450.14,453.91 450.97,447.20 451.80,439.73 452.63,432.41 453.45,426.02 454.28,421.06 455.11,417.77 455.94,416.11 456.77,415.78 457.60,416.20 458.43,416.64 459.26,416.44 460.08,415.25 460.91,413.13 461.74,410.55 462.57,408.08 463.40,406.21 464.23,405.14 465.06,404.82 465.89,404.97 466.71,405.27 467.54,405.45 468.37,405.33 469.20,404.87 470.03,404.12 470.86,403.21 471.69,402.24 472.52,401.28 473.34,400.35 474.17,399.48 475.00,398.72 475.83,398.10 476.66,397.63 477.49,397.32 478.32,397.12 479.15,396.99 479.97,396.88 480.80,396.77 481.63,396.62 482.46,396.45 483.29,396.26 484.12,396.06 484.95,395.86 485.78,395.67 486.60,395.51 487.43,395.38 488.26,395.27 489.09,395.20 489.92,395.15 490.75,395.13 491.58,395.12 492.41,395.10 493.23,395.01 494.06,394.80 494.89,394.42 495.72,393.87 496.55,393.18 497.38,392.46 498.21,391.81 499.04,391.32 499.86,391.00 500.69,390.80 501.52,390.66 502.35,390.52 503.18,390.39 504.01,390.32 504.84,390.37 505.67,390.60 506.49,391.01 507.32,391.54 508.15,392.11 508.98,392.62 509.81,393.03 510.64,393.31 511.47,393.47 512.30,393.55 513.12,393.55 513.95,393.47 514.78,393.31 515.61,393.03 516.44,392.64 517.27,392.15 518.10,391.62 518.93,391.15 519.75,390.82 520.58,390.67 521.41,390.68 522.24,390.77 523.07,390.86 523.90,390.89 524.73,390.88 525.56,390.87 526.38,390.94 527.21,391.12 528.04,391.40 528.87,391.74 529.70,392.05 530.53,392.23" fill="none" stroke="#ff7f0e" stroke-width="1.75" stroke-dasharray="1.8 2.97"/>
</g>
<rect x="444.38" y="381.85" width="90.25" height="140.25" fill="none" stroke="#444" stroke-width="1.0"/>
<line x1="447.65" y1="522.10" x2="447.65" y2="525.10" stroke="#444" stroke-width="1.0"/>
<text x="447.65" y="535.40" font-size="9.3" text-anchor="middle">0</text>
<line x1="489.09" y1="522.10" x2="489.09" y2="525.10" stroke="#444" stroke-width="1.0"/>
<text x="489.09" y="535.40" font-size="9.3" text-anchor="middle">50</text>
<line x1="530.53" y1="522.10" x2="530.53" y2="525.10" stroke="#444" stroke-width="1.0"/>
<text x="530.53" y="535.40" font-size="9.3" text-anchor="middle">100</text>
<line x1="441.38" y1="512.30" x2="444.38" y2="512.30" stroke="#444" stroke-width="1.0"/>
<text x="438.08" y="515.75" font-size="9.3" text-anchor="end">0.875</text>
<line x1="441.38" y1="487.48" x2="444.38" y2="487.48" stroke="#444" stroke-width="1.0"/>
<text x="438.08" y="490.93" font-size="9.3" text-anchor="end">0.900</text>
<line x1="441.38" y1="462.66" x2="444.38" y2="462.66" stroke="#444" stroke-width="1.0"/>
<text x="438.08" y="466.11" font-size="9.3" text-anchor="end">0.925</text>
<line x1="441.38" y1="437.84" x2="444.38" y2="437.84" stroke="#444" stroke-width="1.0"/>
<text x="438.08" y="441.29" font-size="9.3" text-anchor="end">0.950</text>
<line x1="441.38" y1="413.02" x2="444.38" y2="413.02" stroke="#444" stroke-width="1.0"/>
<text x="438.08" y="416.47" font-size="9.3" text-anchor="end">0.975</text>
<line x1="441.38" y1="388.20" x2="444.38" y2="388.20" stroke="#444" stroke-width="1.0"/>
<text x="438.08" y="391.65" font-size="9.3" text-anchor="end">1.000</text>
</g>
<g>
<text x="76.28" y="555.53" font-size="10.1" text-anchor="middle">metrics/mAP50(B)</text>
<clipPath id="c12"><rect x="31.15" y="560.73" width="90.25" height="140.25"/></clipPath>
<g clip-path="url(#c12)">
<polyline points="35.25,636.64 36.08,620.29 36.91,694.31 37.74,606.28 38.57,587.60 39.40,608.62 40.22,578.26 41.05,578.85 41.88,577.10 42.71,578.26 43.54,577.10 44.37,576.16 45.20,577.10 46.03,624.96 46.85,578.26 47.68,575.93 48.51,576.86 49.34,575.93 50.17,576.51 51.00,575.34 51.83,574.76 52.66,577.68 53.48,579.43 54.31,578.26 55.14,576.51 55.97,568.11 56.80,574.76 57.63,567.17 58.46,571.26 59.29,572.43 60.11,568.92 60.94,578.03 61.77,570.09 62.60,567.17 63.43,568.92 64.26,567.17 65.09,568.34 65.92,567.17 66.74,566.82 67.57,567.75 68.40,566.82 69.23,568.34 70.06,566.82 70.89,567.75 71.72,566.82 72.55,568.34 73.37,566.82 74.20,568.34 75.03,566.82 75.86,567.17 76.69,566.82 77.52,571.61 78.35,567.17 79.18,566.82 80.00,569.86 80.83,568.92 81.66,566.82 82.49,566.82 83.32,566.82 84.15,566.82 84.98,566.82 85.81,566.82 86.63,566.82 87.46,566.82 88.29,566.82 89.12,566.82 89.95,566.82 90.78,566.82 91.61,566.82 92.44,566.82 93.26,566.82 94.09,566.82 94.92,566.82 95.75,566.82 96.58,566.82 97.41,566.82 98.24,566.82 99.07,566.82 99.89,566.82 100.72,566.82 101.55,566.82 102.38,566.82 103.21,566.82 104.04,566.82 104.87,566.82 105.70,566.82 106.52,566.82 107.35,566.82 108.18,566.82 109.01,566.82 109.84,566.82 110.67,566.82 111.50,566.82 112.33,566.82 113.15,566.82 113.98,566.82 114.81,566.82 115.64,566.82 116.47,566.82 117.30,566.82" fill="none" stroke="#1f77b4" stroke-width="1.75" stroke-linejoin="round"/>
<path d="M35.25,636.64h0M36.08,620.29h0M36.91,694.31h0M37.74,606.28h0M38.57,587.60h0M39.40,608.62h0M40.22,578.26h0M41.05,578.85h0M41.88,577.10h0M42.71,578.26h0M43.54,577.10h0M44.37,576.16h0M45.20,577.10h0M46.03,624.96h0M46.85,578.26h0M47.68,575.93h0M48.51,576.86h0M49.34,575.93h0M50.17,576.51h0M51.00,575.34h0M51.83,574.76h0M52.66,577.68h0M53.48,579.43h0M54.31,578.26h0M55.14,576.51h0M55.97,568.11h0M56.80,574.76h0M57.63,567.17h0M58.46,571.26h0M59.29,572.43h0M60.11,568.92h0M60.94,578.03h0M61.77,570.09h0M62.60,567.17h0M63.43,568.92h0M64.26,567.17h0M65.09,568.34h0M65.92,567.17h0M66.74,566.82h0M67.57,567.75h0M68.40,566.82h0M69.23,568.34h0M70.06,566.82h0M70.89,567.75h0M71.72,566.82h0M72.55,568.34h0M73.37,566.82h0M74.20,568.34h0M75.03,566.82h0M75.86,567.17h0M76.69,566.82h0M77.52,571.61h0M78.35,567.17h0M79.18,566.82h0M80.00,569.86h0M80.83,568.92h0M81.66,566.82h0M82.49,566.82h0M83.32,566.82h0M84.15,566.82h0M84.98,566.82h0M85.81,566.82h0M86.63,566.82h0M87.46,566.82h0M88.29,566.82h0M89.12,566.82h0M89.95,566.82h0M90.78,566.82h0M91.61,566.82h0M92.44,566.82h0M93.26,566.82h0M94.09,566.82h0M94.92,566.82h0M95.75,566.82h0M96.58,566.82h0M97.41,566.82h0M98.24,566.82h0M99.07,566.82h0M99.89,566.82h0M100.72,566.82h0M101.55,566.82h0M102.38,566.82h0M103.21,566.82h0M104.04,566.82h0M104.87,566.82h0M105.70,566.82h0M106.52,566.82h0M107.35,566.82h0M108.18,566.82h0M109.01,566.82h0M109.84,566.82h0M110.67,566.82h0M111.50,566.82h0M112.33,566.82h0M113.15,566.82h0M113.98,566.82h0M114.81,566.82h0M115.64,566.82h0M116.47,566.82h0M117.30,566.82h0" fill="none" stroke="#1f77b4" stroke-width="4.3" stroke-linecap="round"/>
<polyline points="35.25,631.01 36.08,628.50 36.91,623.72 37.74,617.18 38.57,609.64 39.40,602.02 40.22,595.18 41.05,589.75 41.88,586.03 42.71,583.97 43.54,583.24 44.37,583.29 45.20,583.55 46.03,583.51 46.85,582.93 47.68,581.84 48.51,580.47 49.34,579.12 50.17,578.02 51.00,577.25 51.83,576.72 52.66,576.29 53.48,575.80 54.31,575.18 55.14,574.42 55.97,573.60 56.80,572.84 57.63,572.22 58.46,571.76 59.29,571.40 60.11,571.07 60.94,570.69 61.77,570.21 62.60,569.66 63.43,569.10 64.26,568.58 65.09,568.16 65.92,567.85 66.74,567.64 67.57,567.52 68.40,567.46 69.23,567.44 70.06,567.44 70.89,567.45 71.72,567.47 72.55,567.50 73.37,567.55 74.20,567.61 75.03,567.70 75.86,567.81 76.69,567.92 77.52,568.01 78.35,568.06 79.18,568.03 80.00,567.94 80.83,567.79 81.66,567.59 82.49,567.39 83.32,567.21 84.15,567.06 84.98,566.95 85.81,566.89 86.63,566.85 87.46,566.83 88.29,566.83 89.12,566.82 89.95,566.82 90.78,566.82 91.61,566.82 92.44,566.82 93.26,566.82 94.09,566.82 94.92,566.82 95.75,566.82 96.58,566.82 97.41,566.82 98.24,566.82 99.07,566.82 99.89,566.82 100.72,566.82 101.55,566.82 102.38,566.82 103.21,566.82 104.04,566.82 104.87,566.82 105.70,566.82 106.52,566.82 107.35,566.82 108.18,566.82 109.01,566.82 109.84,566.82 110.67,566.82 111.50,566.82 112.33,566.82 113.15,566.82 113.98,566.82 114.81,566.82 115.64,566.82 116.47,566.82 117.30,566.82" fill="none" stroke="#ff7f0e" stroke-width="1.75" stroke-dasharray="1.8 2.97"/>
</g>
<rect x="31.15" y="560.73" width="90.25" height="140.25" fill="none" stroke="#444" stroke-width="1.0"/>
<line x1="34.42" y1="700.98" x2="34.42" y2="703.98" stroke="#444" stroke-width="1.0"/>
<text x="34.42" y="714.28" font-size="9.3" text-anchor="middle">0</text>
<line x1="75.86" y1="700.98" x2="75.86" y2="703.98" stroke="#444" stroke-width="1.0"/>
<text x="75.86" y="714.28" font-size="9.3" text-anchor="middle">50</text>
<line x1="117.30" y1="700.98" x2="117.30" y2="703.98" stroke="#444" stroke-width="1.0"/>
<text x="117.30" y="714.28" font-size="9.3" text-anchor="middle">100</text>
<line x1="28.15" y1="677.50" x2="31.15" y2="677.50" stroke="#444" stroke-width="1.0"/>
<text x="24.85" y="680.95" font-size="9.3" text-anchor="end">0.90</text>
<line x1="28.15" y1="654.15" x2="31.15" y2="654.15" stroke="#444" stroke-width="1.0"/>
<text x="24.85" y="657.60" font-size="9.3" text-anchor="end">0.92</text>
<line x1="28.15" y1="630.80" x2="31.15" y2="630.80" stroke="#444" stroke-width="1.0"/>
<text x="24.85" y="634.25" font-size="9.3" text-anchor="end">0.94</text>
<line x1="28.15" y1="607.45" x2="31.15" y2="607.45" stroke="#444" stroke-width="1.0"/>
<text x="24.85" y="610.90" font-size="9.3" text-anchor="end">0.96</text>
<line x1="28.15" y1="584.10" x2="31.15" y2="584.10" stroke="#444" stroke-width="1.0"/>
<text x="24.85" y="587.55" font-size="9.3" text-anchor="end">0.98</text>
<line x1="28.15" y1="560.75" x2="31.15" y2="560.75" stroke="#444" stroke-width="1.0"/>
<text x="24.85" y="564.20" font-size="9.3" text-anchor="end">1.00</text>
</g>
<g>
<text x="214.07" y="555.53" font-size="10.1" text-anchor="middle">metrics/mAP50-95(B)</text>
<clipPath id="c13"><rect x="168.95" y="560.73" width="90.25" height="140.25"/></clipPath>
<g clip-path="url(#c13)">
<polyline points="173.05,654.04 173.88,650.17 174.71,693.99 175.54,625.93 176.37,608.09 177.20,623.99 178.02,610.80 178.85,597.23 179.68,598.66 180.51,599.78 181.34,590.10 182.17,593.69 183.00,581.74 183.83,628.84 184.65,580.47 185.48,579.81 186.31,578.17 187.14,585.16 187.97,577.63 188.80,587.15 189.63,575.50 190.46,573.50 191.28,580.94 192.11,575.99 192.94,570.64 193.77,573.94 194.60,569.35 195.43,569.49 196.26,568.49 197.09,568.51 197.91,569.28 198.74,577.84 199.57,569.92 200.40,572.15 201.23,577.84 202.06,569.20 202.89,568.74 203.72,570.43 204.54,569.88 205.37,569.79 206.20,567.98 207.03,567.90 207.86,567.76 208.69,569.23 209.52,567.45 210.35,568.98 211.17,567.52 212.00,567.49 212.83,567.33 213.66,568.74 214.49,567.45 215.32,569.03 216.15,567.51 216.98,568.60 217.80,568.55 218.63,570.86 219.46,567.22 220.29,568.48 221.12,567.59 221.95,568.44 222.78,568.43 223.61,567.36 224.43,568.39 225.26,568.13 226.09,567.36 226.92,567.93 227.75,567.49 228.58,567.90 229.41,567.43 230.24,567.89 231.06,567.33 231.89,567.82 232.72,567.33 233.55,567.71 234.38,567.26 235.21,567.76 236.04,567.15 236.87,567.08 237.69,567.08 238.52,567.59 239.35,566.99 240.18,567.59 241.01,567.06 241.84,567.65 242.67,567.46 243.50,567.42 244.32,566.92 245.15,567.47 245.98,566.99 246.81,566.99 247.64,566.89 248.47,567.40 249.30,567.00 250.13,567.44 250.95,566.88 251.78,567.34 252.61,566.90 253.44,567.00 254.27,566.88 255.10,567.51" fill="none" stroke="#1f77b4" stroke-width="1.75" stroke-linejoin="round"/>
<path d="M173.05,654.04h0M173.88,650.17h0M174.71,693.99h0M175.54,625.93h0M176.37,608.09h0M177.20,623.99h0M178.02,610.80h0M178.85,597.23h0M179.68,598.66h0M180.51,599.78h0M181.34,590.10h0M182.17,593.69h0M183.00,581.74h0M183.83,628.84h0M184.65,580.47h0M185.48,579.81h0M186.31,578.17h0M187.14,585.16h0M187.97,577.63h0M188.80,587.15h0M189.63,575.50h0M190.46,573.50h0M191.28,580.94h0M192.11,575.99h0M192.94,570.64h0M193.77,573.94h0M194.60,569.35h0M195.43,569.49h0M196.26,568.49h0M197.09,568.51h0M197.91,569.28h0M198.74,577.84h0M199.57,569.92h0M200.40,572.15h0M201.23,577.84h0M202.06,569.20h0M202.89,568.74h0M203.72,570.43h0M204.54,569.88h0M205.37,569.79h0M206.20,567.98h0M207.03,567.90h0M207.86,567.76h0M208.69,569.23h0M209.52,567.45h0M210.35,568.98h0M211.17,567.52h0M212.00,567.49h0M212.83,567.33h0M213.66,568.74h0M214.49,567.45h0M215.32,569.03h0M216.15,567.51h0M216.98,568.60h0M217.80,568.55h0M218.63,570.86h0M219.46,567.22h0M220.29,568.48h0M221.12,567.59h0M221.95,568.44h0M222.78,568.43h0M223.61,567.36h0M224.43,568.39h0M225.26,568.13h0M226.09,567.36h0M226.92,567.93h0M227.75,567.49h0M228.58,567.90h0M229.41,567.43h0M230.24,567.89h0M231.06,567.33h0M231.89,567.82h0M232.72,567.33h0M233.55,567.71h0M234.38,567.26h0M235.21,567.76h0M236.04,567.15h0M236.87,567.08h0M237.69,567.08h0M238.52,567.59h0M239.35,566.99h0M240.18,567.59h0M241.01,567.06h0M241.84,567.65h0M242.67,567.46h0M243.50,567.42h0M244.32,566.92h0M245.15,567.47h0M245.98,566.99h0M246.81,566.99h0M247.64,566.89h0M248.47,567.40h0M249.30,567.00h0M250.13,567.44h0M250.95,566.88h0M251.78,567.34h0M252.61,566.90h0M253.44,567.00h0M254.27,566.88h0M255.10,567.51h0" fill="none" stroke="#1f77b4" stroke-width="4.3" stroke-linecap="round"/>
<polyline points="173.05,648.91 173.88,646.49 174.71,641.90 175.54,635.70 176.37,628.58 177.20,621.31 178.02,614.55 178.85,608.73 179.68,604.04 180.51,600.44 181.34,597.72 182.17,595.57 183.00,593.64 183.83,591.68 184.65,589.56 185.48,587.34 186.31,585.19 187.14,583.23 187.97,581.53 188.80,580.06 189.63,578.73 190.46,577.46 191.28,576.21 192.11,574.98 192.94,573.80 193.77,572.75 194.60,571.90 195.43,571.33 196.26,571.06 197.09,571.07 197.91,571.26 198.74,571.51 199.57,571.69 200.40,571.71 201.23,571.54 202.06,571.20 202.89,570.75 203.72,570.25 204.54,569.77 205.37,569.34 206.20,568.98 207.03,568.70 207.86,568.48 208.69,568.31 209.52,568.19 210.35,568.10 211.17,568.04 212.00,568.02 212.83,568.03 213.66,568.08 214.49,568.15 215.32,568.25 216.15,568.35 216.98,568.42 217.80,568.47 218.63,568.47 219.46,568.42 220.29,568.35 221.12,568.26 221.95,568.18 222.78,568.10 223.61,568.02 224.43,567.96 225.26,567.89 226.09,567.83 226.92,567.78 227.75,567.73 228.58,567.69 229.41,567.66 230.24,567.63 231.06,567.59 231.89,567.56 232.72,567.52 233.55,567.48 234.38,567.44 235.21,567.40 236.04,567.36 236.87,567.33 237.69,567.31 238.52,567.30 239.35,567.31 240.18,567.32 241.01,567.32 241.84,567.32 242.67,567.30 243.50,567.28 244.32,567.24 245.15,567.20 245.98,567.17 246.81,567.15 247.64,567.14 248.47,567.13 249.30,567.13 250.13,567.12 250.95,567.12 251.78,567.12 252.61,567.12 253.44,567.12 254.27,567.12 255.10,567.13" fill="none" stroke="#ff7f0e" stroke-width="1.75" stroke-dasharray="1.8 2.97"/>
</g>
<rect x="168.95" y="560.73" width="90.25" height="140.25" fill="none" stroke="#444" stroke-width="1.0"/>
<line x1="172.22" y1="700.98" x2="172.22" y2="703.98" stroke="#444" stroke-width="1.0"/>
<text x="172.22" y="714.28" font-size="9.3" text-anchor="middle">0</text>
<line x1="213.66" y1="700.98" x2="213.66" y2="703.98" stroke="#444" stroke-width="1.0"/>
<text x="213.66" y="714.28" font-size="9.3" text-anchor="middle">50</text>
<line x1="255.10" y1="700.98" x2="255.10" y2="703.98" stroke="#444" stroke-width="1.0"/>
<text x="255.10" y="714.28" font-size="9.3" text-anchor="middle">100</text>
<line x1="165.95" y1="691.30" x2="168.95" y2="691.30" stroke="#444" stroke-width="1.0"/>
<text x="162.65" y="694.75" font-size="9.3" text-anchor="end">0.80</text>
<line x1="165.95" y1="659.30" x2="168.95" y2="659.30" stroke="#444" stroke-width="1.0"/>
<text x="162.65" y="662.75" font-size="9.3" text-anchor="end">0.85</text>
<line x1="165.95" y1="627.30" x2="168.95" y2="627.30" stroke="#444" stroke-width="1.0"/>
<text x="162.65" y="630.75" font-size="9.3" text-anchor="end">0.90</text>
<line x1="165.95" y1="595.30" x2="168.95" y2="595.30" stroke="#444" stroke-width="1.0"/>
<text x="162.65" y="598.75" font-size="9.3" text-anchor="end">0.95</text>
<line x1="165.95" y1="563.30" x2="168.95" y2="563.30" stroke="#444" stroke-width="1.0"/>
<text x="162.65" y="566.75" font-size="9.3" text-anchor="end">1.00</text>
</g>
<g>
<text x="351.73" y="555.53" font-size="10.1" text-anchor="middle">metrics/mAP50(M)</text>
<clipPath id="c14"><rect x="306.6" y="560.73" width="90.25" height="140.25"/></clipPath>
<g clip-path="url(#c14)">
<polyline points="310.70,636.64 311.53,620.29 312.36,694.31 313.19,606.28 314.02,587.60 314.85,608.62 315.67,578.26 316.50,578.85 317.33,577.10 318.16,578.26 318.99,577.10 319.82,576.16 320.65,577.10 321.48,624.96 322.30,578.26 323.13,575.93 323.96,576.86 324.79,575.93 325.62,576.51 326.45,575.34 327.28,574.76 328.11,577.68 328.93,579.43 329.76,578.26 330.59,576.51 331.42,568.11 332.25,574.76 333.08,567.17 333.91,571.26 334.74,572.43 335.56,568.92 336.39,578.03 337.22,570.09 338.05,567.17 338.88,568.92 339.71,567.17 340.54,568.34 341.37,567.17 342.19,566.82 343.02,567.75 343.85,566.82 344.68,568.34 345.51,566.82 346.34,567.75 347.17,566.82 348.00,568.34 348.82,566.82 349.65,568.34 350.48,566.82 351.31,567.17 352.14,566.82 352.97,571.61 353.80,567.17 354.63,566.82 355.45,569.86 356.28,568.92 357.11,566.82 357.94,566.82 358.77,566.82 359.60,566.82 360.43,566.82 361.26,566.82 362.08,566.82 362.91,566.82 363.74,566.82 364.57,566.82 365.40,566.82 366.23,566.82 367.06,566.82 367.89,566.82 368.71,566.82 369.54,566.82 370.37,566.82 371.20,566.82 372.03,566.82 372.86,566.82 373.69,566.82 374.52,566.82 375.34,566.82 376.17,566.82 377.00,566.82 377.83,566.82 378.66,566.82 379.49,566.82 380.32,566.82 381.15,566.82 381.97,566.82 382.80,566.82 383.63,566.82 384.46,566.82 385.29,566.82 386.12,566.82 386.95,566.82 387.78,566.82 388.60,566.82 389.43,566.82 390.26,566.82 391.09,566.82 391.92,566.82 392.75,566.82" fill="none" stroke="#1f77b4" stroke-width="1.75" stroke-linejoin="round"/>
<path d="M310.70,636.64h0M311.53,620.29h0M312.36,694.31h0M313.19,606.28h0M314.02,587.60h0M314.85,608.62h0M315.67,578.26h0M316.50,578.85h0M317.33,577.10h0M318.16,578.26h0M318.99,577.10h0M319.82,576.16h0M320.65,577.10h0M321.48,624.96h0M322.30,578.26h0M323.13,575.93h0M323.96,576.86h0M324.79,575.93h0M325.62,576.51h0M326.45,575.34h0M327.28,574.76h0M328.11,577.68h0M328.93,579.43h0M329.76,578.26h0M330.59,576.51h0M331.42,568.11h0M332.25,574.76h0M333.08,567.17h0M333.91,571.26h0M334.74,572.43h0M335.56,568.92h0M336.39,578.03h0M337.22,570.09h0M338.05,567.17h0M338.88,568.92h0M339.71,567.17h0M340.54,568.34h0M341.37,567.17h0M342.19,566.82h0M343.02,567.75h0M343.85,566.82h0M344.68,568.34h0M345.51,566.82h0M346.34,567.75h0M347.17,566.82h0M348.00,568.34h0M348.82,566.82h0M349.65,568.34h0M350.48,566.82h0M351.31,567.17h0M352.14,566.82h0M352.97,571.61h0M353.80,567.17h0M354.63,566.82h0M355.45,569.86h0M356.28,568.92h0M357.11,566.82h0M357.94,566.82h0M358.77,566.82h0M359.60,566.82h0M360.43,566.82h0M361.26,566.82h0M362.08,566.82h0M362.91,566.82h0M363.74,566.82h0M364.57,566.82h0M365.40,566.82h0M366.23,566.82h0M367.06,566.82h0M367.89,566.82h0M368.71,566.82h0M369.54,566.82h0M370.37,566.82h0M371.20,566.82h0M372.03,566.82h0M372.86,566.82h0M373.69,566.82h0M374.52,566.82h0M375.34,566.82h0M376.17,566.82h0M377.00,566.82h0M377.83,566.82h0M378.66,566.82h0M379.49,566.82h0M380.32,566.82h0M381.15,566.82h0M381.97,566.82h0M382.80,566.82h0M383.63,566.82h0M384.46,566.82h0M385.29,566.82h0M386.12,566.82h0M386.95,566.82h0M387.78,566.82h0M388.60,566.82h0M389.43,566.82h0M390.26,566.82h0M391.09,566.82h0M391.92,566.82h0M392.75,566.82h0" fill="none" stroke="#1f77b4" stroke-width="4.3" stroke-linecap="round"/>
<polyline points="310.70,631.01 311.53,628.50 312.36,623.72 313.19,617.18 314.02,609.64 314.85,602.02 315.67,595.18 316.50,589.75 317.33,586.03 318.16,583.97 318.99,583.24 319.82,583.29 320.65,583.55 321.48,583.51 322.30,582.93 323.13,581.84 323.96,580.47 324.79,579.12 325.62,578.02 326.45,577.25 327.28,576.72 328.11,576.29 328.93,575.80 329.76,575.18 330.59,574.42 331.42,573.60 332.25,572.84 333.08,572.22 333.91,571.76 334.74,571.40 335.56,571.07 336.39,570.69 337.22,570.21 338.05,569.66 338.88,569.10 339.71,568.58 340.54,568.16 341.37,567.85 342.19,567.64 343.02,567.52 343.85,567.46 344.68,567.44 345.51,567.44 346.34,567.45 347.17,567.47 348.00,567.50 348.82,567.55 349.65,567.61 350.48,567.70 351.31,567.81 352.14,567.92 352.97,568.01 353.80,568.06 354.63,568.03 355.45,567.94 356.28,567.79 357.11,567.59 357.94,567.39 358.77,567.21 359.60,567.06 360.43,566.95 361.26,566.89 362.08,566.85 362.91,566.83 363.74,566.83 364.57,566.82 365.40,566.82 366.23,566.82 367.06,566.82 367.89,566.82 368.71,566.82 369.54,566.82 370.37,566.82 371.20,566.82 372.03,566.82 372.86,566.82 373.69,566.82 374.52,566.82 375.34,566.82 376.17,566.82 377.00,566.82 377.83,566.82 378.66,566.82 379.49,566.82 380.32,566.82 381.15,566.82 381.97,566.82 382.80,566.82 383.63,566.82 384.46,566.82 385.29,566.82 386.12,566.82 386.95,566.82 387.78,566.82 388.60,566.82 389.43,566.82 390.26,566.82 391.09,566.82 391.92,566.82 392.75,566.82" fill="none" stroke="#ff7f0e" stroke-width="1.75" stroke-dasharray="1.8 2.97"/>
</g>
<rect x="306.6" y="560.73" width="90.25" height="140.25" fill="none" stroke="#444" stroke-width="1.0"/>
<line x1="309.87" y1="700.98" x2="309.87" y2="703.98" stroke="#444" stroke-width="1.0"/>
<text x="309.87" y="714.28" font-size="9.3" text-anchor="middle">0</text>
<line x1="351.31" y1="700.98" x2="351.31" y2="703.98" stroke="#444" stroke-width="1.0"/>
<text x="351.31" y="714.28" font-size="9.3" text-anchor="middle">50</text>
<line x1="392.75" y1="700.98" x2="392.75" y2="703.98" stroke="#444" stroke-width="1.0"/>
<text x="392.75" y="714.28" font-size="9.3" text-anchor="middle">100</text>
<line x1="303.60" y1="677.50" x2="306.60" y2="677.50" stroke="#444" stroke-width="1.0"/>
<text x="300.30" y="680.95" font-size="9.3" text-anchor="end">0.90</text>
<line x1="303.60" y1="654.15" x2="306.60" y2="654.15" stroke="#444" stroke-width="1.0"/>
<text x="300.30" y="657.60" font-size="9.3" text-anchor="end">0.92</text>
<line x1="303.60" y1="630.80" x2="306.60" y2="630.80" stroke="#444" stroke-width="1.0"/>
<text x="300.30" y="634.25" font-size="9.3" text-anchor="end">0.94</text>
<line x1="303.60" y1="607.45" x2="306.60" y2="607.45" stroke="#444" stroke-width="1.0"/>
<text x="300.30" y="610.90" font-size="9.3" text-anchor="end">0.96</text>
<line x1="303.60" y1="584.10" x2="306.60" y2="584.10" stroke="#444" stroke-width="1.0"/>
<text x="300.30" y="587.55" font-size="9.3" text-anchor="end">0.98</text>
<line x1="303.60" y1="560.75" x2="306.60" y2="560.75" stroke="#444" stroke-width="1.0"/>
<text x="300.30" y="564.20" font-size="9.3" text-anchor="end">1.00</text>
</g>
<g>
<text x="489.50" y="555.53" font-size="10.1" text-anchor="middle">metrics/mAP50-95(M)</text>
<clipPath id="c15"><rect x="444.38" y="560.73" width="90.25" height="140.25"/></clipPath>
<g clip-path="url(#c15)">
<polyline points="448.48,644.74 449.31,650.17 450.14,693.99 450.97,622.05 451.80,601.69 452.63,632.13 453.45,600.72 454.28,608.48 455.11,599.37 455.94,588.70 456.77,592.16 457.60,600.72 458.43,593.93 459.26,623.02 460.08,585.21 460.91,597.05 461.74,583.53 462.57,596.84 463.40,580.36 464.23,589.09 465.06,579.94 465.89,584.24 466.71,578.98 467.54,589.23 468.37,593.93 469.20,586.46 470.03,569.70 470.86,578.42 471.69,573.60 472.52,569.70 473.34,573.17 474.17,584.31 475.00,598.78 475.83,566.93 476.66,581.33 477.49,575.71 478.32,576.49 479.15,593.93 479.97,575.51 480.80,573.97 481.63,579.39 482.46,582.50 483.29,568.73 484.12,573.57 484.95,579.39 485.78,580.41 486.60,581.33 487.43,579.66 488.26,573.19 489.09,578.38 489.92,575.90 490.75,579.39 491.58,575.51 492.41,578.39 493.23,576.40 494.06,579.59 494.89,575.91 495.72,578.81 496.55,575.81 497.38,578.22 498.21,575.70 499.04,572.60 499.86,576.36 500.69,580.39 501.52,581.33 502.35,584.24 503.18,577.59 504.01,580.16 504.84,579.79 505.67,580.14 506.49,576.23 507.32,569.31 508.15,578.42 508.98,579.69 509.81,591.99 510.64,578.60 511.47,573.57 512.30,579.65 513.12,574.50 513.95,578.81 514.78,574.27 515.61,573.89 516.44,573.22 517.27,576.38 518.10,575.86 518.93,574.77 519.75,571.37 520.58,568.73 521.41,569.71 522.24,569.70 523.07,570.87 523.90,574.98 524.73,572.80 525.56,580.36 526.38,572.55 527.21,571.63 528.04,570.93 528.87,575.16 529.70,574.54 530.53,571.63" fill="none" stroke="#1f77b4" stroke-width="1.75" stroke-linejoin="round"/>
<path d="M448.48,644.74h0M449.31,650.17h0M450.14,693.99h0M450.97,622.05h0M451.80,601.69h0M452.63,632.13h0M453.45,600.72h0M454.28,608.48h0M455.11,599.37h0M455.94,588.70h0M456.77,592.16h0M457.60,600.72h0M458.43,593.93h0M459.26,623.02h0M460.08,585.21h0M460.91,597.05h0M461.74,583.53h0M462.57,596.84h0M463.40,580.36h0M464.23,589.09h0M465.06,579.94h0M465.89,584.24h0M466.71,578.98h0M467.54,589.23h0M468.37,593.93h0M469.20,586.46h0M470.03,569.70h0M470.86,578.42h0M471.69,573.60h0M472.52,569.70h0M473.34,573.17h0M474.17,584.31h0M475.00,598.78h0M475.83,566.93h0M476.66,581.33h0M477.49,575.71h0M478.32,576.49h0M479.15,593.93h0M479.97,575.51h0M480.80,573.97h0M481.63,579.39h0M482.46,582.50h0M483.29,568.73h0M484.12,573.57h0M484.95,579.39h0M485.78,580.41h0M486.60,581.33h0M487.43,579.66h0M488.26,573.19h0M489.09,578.38h0M489.92,575.90h0M490.75,579.39h0M491.58,575.51h0M492.41,578.39h0M493.23,576.40h0M494.06,579.59h0M494.89,575.91h0M495.72,578.81h0M496.55,575.81h0M497.38,578.22h0M498.21,575.70h0M499.04,572.60h0M499.86,576.36h0M500.69,580.39h0M501.52,581.33h0M502.35,584.24h0M503.18,577.59h0M504.01,580.16h0M504.84,579.79h0M505.67,580.14h0M506.49,576.23h0M507.32,569.31h0M508.15,578.42h0M508.98,579.69h0M509.81,591.99h0M510.64,578.60h0M511.47,573.57h0M512.30,579.65h0M513.12,574.50h0M513.95,578.81h0M514.78,574.27h0M515.61,573.89h0M516.44,573.22h0M517.27,576.38h0M518.10,575.86h0M518.93,574.77h0M519.75,571.37h0M520.58,568.73h0M521.41,569.71h0M522.24,569.70h0M523.07,570.87h0M523.90,574.98h0M524.73,572.80h0M525.56,580.36h0M526.38,572.55h0M527.21,571.63h0M528.04,570.93h0M528.87,575.16h0M529.70,574.54h0M530.53,571.63h0" fill="none" stroke="#1f77b4" stroke-width="4.3" stroke-linecap="round"/>
<polyline points="448.48,645.69 449.31,643.48 450.14,639.31 450.97,633.62 451.80,627.07 452.63,620.37 453.45,614.14 454.28,608.85 455.11,604.74 455.94,601.82 456.77,599.91 457.60,598.67 458.43,597.69 459.26,596.62 460.08,595.24 460.91,593.55 461.74,591.66 462.57,589.80 463.40,588.13 464.23,586.77 465.06,585.76 465.89,585.00 466.71,584.34 467.54,583.59 468.37,582.61 469.20,581.41 470.03,580.15 470.86,579.06 471.69,578.38 472.52,578.20 473.34,578.42 474.17,578.86 475.00,579.30 475.83,579.60 476.66,579.74 477.49,579.72 478.32,579.58 479.15,579.32 479.97,578.95 480.80,578.49 481.63,578.02 482.46,577.64 483.29,577.44 484.12,577.42 484.95,577.54 485.78,577.69 486.60,577.79 487.43,577.79 488.26,577.71 489.09,577.58 489.92,577.47 490.75,577.41 491.58,577.38 492.41,577.38 493.23,577.36 494.06,577.32 494.89,577.24 495.72,577.13 496.55,577.05 497.38,577.06 498.21,577.20 499.04,577.53 499.86,577.99 500.69,578.51 501.52,578.96 502.35,579.24 503.18,579.29 504.01,579.12 504.84,578.84 505.67,578.58 506.49,578.44 507.32,578.48 508.15,578.66 508.98,578.85 509.81,578.90 510.64,578.71 511.47,578.29 512.30,577.69 513.12,577.02 513.95,576.36 514.78,575.77 515.61,575.24 516.44,574.74 517.27,574.23 518.10,573.67 518.93,573.10 519.75,572.57 520.58,572.18 521.41,572.01 522.24,572.10 523.07,572.40 523.90,572.79 524.73,573.15 525.56,573.40 526.38,573.49 527.21,573.47 528.04,573.39 528.87,573.29 529.70,573.22 530.53,573.18" fill="none" stroke="#ff7f0e" stroke-width="1.75" stroke-dasharray="1.8 2.97"/>
</g>
<rect x="444.38" y="560.73" width="90.25" height="140.25" fill="none" stroke="#444" stroke-width="1.0"/>
<line x1="447.65" y1="700.98" x2="447.65" y2="703.98" stroke="#444" stroke-width="1.0"/>
<text x="447.65" y="714.28" font-size="9.3" text-anchor="middle">0</text>
<line x1="489.09" y1="700.98" x2="489.09" y2="703.98" stroke="#444" stroke-width="1.0"/>
<text x="489.09" y="714.28" font-size="9.3" text-anchor="middle">50</text>
<line x1="530.53" y1="700.98" x2="530.53" y2="703.98" stroke="#444" stroke-width="1.0"/>
<text x="530.53" y="714.28" font-size="9.3" text-anchor="middle">100</text>
<line x1="441.38" y1="689.00" x2="444.38" y2="689.00" stroke="#444" stroke-width="1.0"/>
<text x="438.08" y="692.45" font-size="9.3" text-anchor="end">0.80</text>
<line x1="441.38" y1="654.30" x2="444.38" y2="654.30" stroke="#444" stroke-width="1.0"/>
<text x="438.08" y="657.75" font-size="9.3" text-anchor="end">0.85</text>
<line x1="441.38" y1="619.60" x2="444.38" y2="619.60" stroke="#444" stroke-width="1.0"/>
<text x="438.08" y="623.05" font-size="9.3" text-anchor="end">0.90</text>
<line x1="441.38" y1="584.90" x2="444.38" y2="584.90" stroke="#444" stroke-width="1.0"/>
<text x="438.08" y="588.35" font-size="9.3" text-anchor="end">0.95</text>
</g>
</svg>
</body>
</html>
